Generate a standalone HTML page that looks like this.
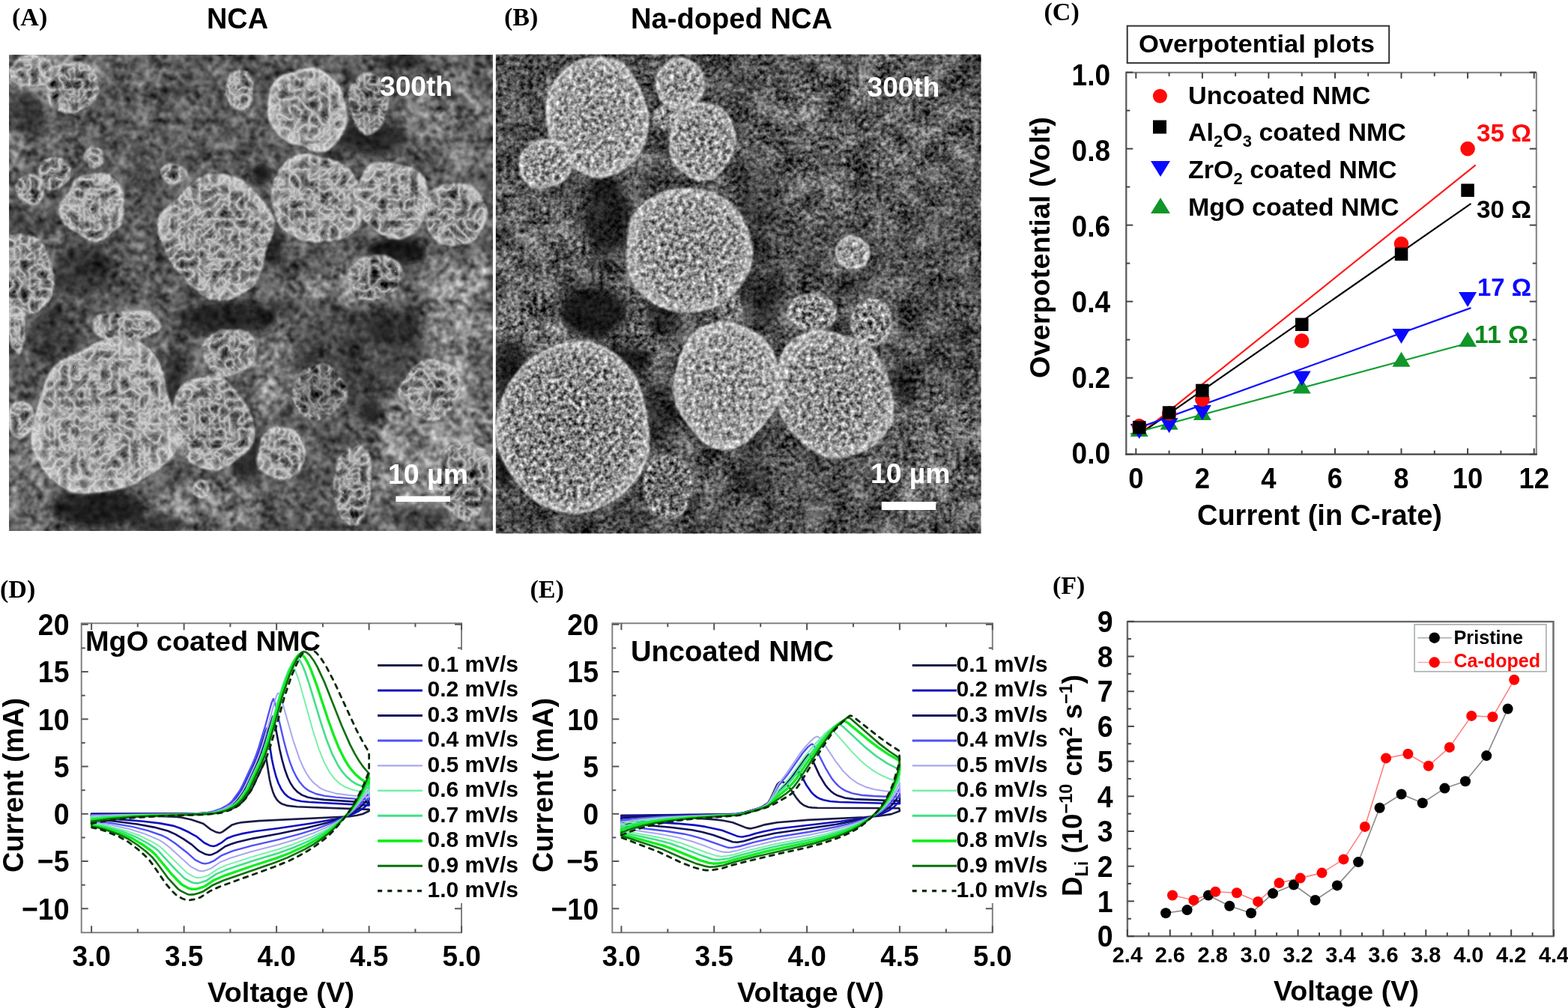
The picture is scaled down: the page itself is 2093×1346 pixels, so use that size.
<!DOCTYPE html>
<html><head><meta charset="utf-8"><title>Figure</title>
<style>html,body{margin:0;padding:0;background:#fff;} body{width:2093px;height:1346px;overflow:hidden;} svg{display:block;}</style>
</head><body>
<svg width="2093" height="1346" viewBox="0 0 2093 1346">
<defs>
<clipPath id="clipA"><rect x="12.4" y="73.6" width="645.2" height="635.2"/></clipPath>
<clipPath id="clipB"><rect x="661.8" y="72.5" width="647.8" height="639.9"/></clipPath>
<filter id="bl4" x="-50%" y="-50%" width="200%" height="200%"><feGaussianBlur stdDeviation="4"/></filter>
<filter id="bl6" x="-50%" y="-50%" width="200%" height="200%"><feGaussianBlur stdDeviation="6"/></filter>
<filter id="bl10" x="-50%" y="-50%" width="200%" height="200%"><feGaussianBlur stdDeviation="10"/></filter>
<filter id="bl16" x="-50%" y="-50%" width="200%" height="200%"><feGaussianBlur stdDeviation="16"/></filter>
<filter id="pblur" x="-20%" y="-20%" width="140%" height="140%"><feGaussianBlur stdDeviation="1.6"/></filter>
<radialGradient id="rg" cx="50%" cy="50%" r="50%">
  <stop offset="0%" stop-color="#000" stop-opacity="0.10"/>
  <stop offset="70%" stop-color="#000" stop-opacity="0.0"/>
  <stop offset="88%" stop-color="#fff" stop-opacity="0.18"/>
  <stop offset="100%" stop-color="#fff" stop-opacity="0.30"/>
</radialGradient>
<filter id="texA" x="0" y="0" width="100%" height="100%" color-interpolation-filters="sRGB">
  <feTurbulence type="fractalNoise" baseFrequency="0.12" numOctaves="2" seed="7" result="n1"/>
  <feTurbulence type="fractalNoise" baseFrequency="0.035" numOctaves="2" seed="3" result="n2"/>
  <feComposite in="n1" in2="n2" operator="arithmetic" k2="0.6" k3="0.4" result="n"/>
  <feColorMatrix in="n" type="matrix" values="1.5 0 0 0 -0.25  1.5 0 0 0 -0.25  1.5 0 0 0 -0.25  0 0 0 0 1" result="ng0"/>
  <feGaussianBlur in="ng0" stdDeviation="0.9" result="ng"/>
  <feBlend in="ng" in2="SourceGraphic" mode="overlay"/>
</filter>
<filter id="texB" x="0" y="0" width="100%" height="100%" color-interpolation-filters="sRGB">
  <feTurbulence type="fractalNoise" baseFrequency="0.17" numOctaves="2" seed="11" result="n1"/>
  <feTurbulence type="fractalNoise" baseFrequency="0.03" numOctaves="2" seed="5" result="n2"/>
  <feComposite in="n1" in2="n2" operator="arithmetic" k2="0.6" k3="0.4" result="n"/>
  <feColorMatrix in="n" type="matrix" values="2.1 0 0 0 -0.55  2.1 0 0 0 -0.55  2.1 0 0 0 -0.55  0 0 0 0 1" result="ng0"/>
  <feGaussianBlur in="ng0" stdDeviation="0.6" result="ng"/>
  <feBlend in="ng" in2="SourceGraphic" mode="overlay"/>
</filter>
<filter id="ptexA" x="0" y="0" width="100%" height="100%" color-interpolation-filters="sRGB">
  <feTurbulence type="turbulence" baseFrequency="0.075" numOctaves="2" seed="4" result="n"/>
  <feColorMatrix in="n" type="matrix" values="-1.1 0 0 0 0.78  -1.1 0 0 0 0.78  -1.1 0 0 0 0.78  0 0 0 0 1" result="ng0"/>
  <feGaussianBlur in="ng0" stdDeviation="0.7" result="ng"/>
  <feBlend in="ng" in2="SourceGraphic" mode="overlay" result="b"/>
  <feComposite in="b" in2="SourceAlpha" operator="in"/>
</filter>
<filter id="ptexB" x="0" y="0" width="100%" height="100%" color-interpolation-filters="sRGB">
  <feTurbulence type="fractalNoise" baseFrequency="0.17" numOctaves="2" seed="9" result="n"/>
  <feColorMatrix in="n" type="matrix" values="1.5 0 0 0 -0.25  1.5 0 0 0 -0.25  1.5 0 0 0 -0.25  0 0 0 0 1" result="ng0"/>
  <feGaussianBlur in="ng0" stdDeviation="0.7" result="ng"/>
  <feBlend in="ng" in2="SourceGraphic" mode="overlay" result="b"/>
  <feComposite in="b" in2="SourceAlpha" operator="in"/>
</filter>
</defs>
<rect width="2093" height="1346" fill="#fff"/>
<g clip-path="url(#clipA)"><g filter="url(#texA)">
<rect x="12.4" y="73.6" width="645.2" height="635.2" fill="#585858"/>
<ellipse cx="70" cy="110" rx="62" ry="40" fill="#969696" filter="url(#bl10)"/>
<ellipse cx="615" cy="150" rx="45" ry="75" fill="#6c6c6c" filter="url(#bl16)"/>
<ellipse cx="580" cy="585" rx="85" ry="130" fill="#878787" filter="url(#bl16)"/>
<ellipse cx="28" cy="200" rx="18" ry="32" fill="#6e6e6e" filter="url(#bl6)"/>
<ellipse cx="40" cy="650" rx="32" ry="60" fill="#707070" filter="url(#bl10)"/>
<ellipse cx="280" cy="675" rx="70" ry="36" fill="#767676" filter="url(#bl10)"/>
<ellipse cx="362" cy="497" rx="35" ry="60" fill="#767676" filter="url(#bl10)"/>
<ellipse cx="240" cy="140" rx="110" ry="70" fill="#5c5c5c" filter="url(#bl16)"/>
<ellipse cx="470" cy="380" rx="60" ry="30" fill="#7d7d7d" filter="url(#bl10)"/>
<ellipse cx="560" cy="165" rx="35" ry="45" fill="#707070" filter="url(#bl10)"/>
<ellipse cx="612" cy="426" rx="48" ry="36" fill="#828282" filter="url(#bl10)"/>
<ellipse cx="610" cy="372" rx="47" ry="30" fill="#878787" filter="url(#bl10)"/>
<ellipse cx="35" cy="150" rx="26" ry="32" fill="#3a3a3a" filter="url(#bl6)"/>
<ellipse cx="112" cy="362" rx="42" ry="35" fill="#323232" filter="url(#bl6)"/>
<ellipse cx="495" cy="185" rx="52" ry="22" fill="#262626" filter="url(#bl6)"/>
<ellipse cx="540" cy="82" rx="36" ry="10" fill="#2d2d2d" filter="url(#bl4)"/>
<ellipse cx="530" cy="334" rx="40" ry="16" fill="#191919" filter="url(#bl4)"/>
<ellipse cx="350" cy="232" rx="13" ry="14" fill="#191919" filter="url(#bl4)"/>
<ellipse cx="364" cy="328" rx="14" ry="25" fill="#2a2a2a" filter="url(#bl4)"/>
<ellipse cx="70" cy="450" rx="36" ry="36" fill="#3a3a3a" filter="url(#bl6)"/>
<ellipse cx="305" cy="425" rx="62" ry="24" fill="#232323" filter="url(#bl6)"/>
<ellipse cx="130" cy="678" rx="62" ry="24" fill="#1e1e1e" filter="url(#bl6)"/>
<ellipse cx="235" cy="510" rx="15" ry="36" fill="#2a2a2a" filter="url(#bl4)"/>
<ellipse cx="325" cy="617" rx="16" ry="24" fill="#2a2a2a" filter="url(#bl4)"/>
<ellipse cx="480" cy="478" rx="90" ry="62" fill="#424242" filter="url(#bl10)"/>
<ellipse cx="525" cy="438" rx="40" ry="24" fill="#2a2a2a" filter="url(#bl6)"/>
<ellipse cx="337" cy="611" rx="8" ry="42" fill="#262626" filter="url(#bl4)"/>
<ellipse cx="495" cy="552" rx="17" ry="15" fill="#262626" filter="url(#bl4)"/>
<ellipse cx="210" cy="700" rx="40" ry="10" fill="#2d2d2d" filter="url(#bl4)"/>
<ellipse cx="25" cy="300" rx="14" ry="20" fill="#3c3c3c" filter="url(#bl6)"/>
<ellipse cx="560" cy="690" rx="40" ry="16" fill="#464646" filter="url(#bl6)"/>
</g><g filter="url(#ptexA)">
<g filter="url(#pblur)"><path d="M237,559C240,569 242,581 240,591C238,601 231,610 224,617C217,624 208,630 200,635C192,640 185,645 177,648C169,651 161,652 153,654C145,656 136,657 127,658C118,659 108,660 99,658C90,656 81,650 73,644C65,638 58,629 53,620C48,611 42,601 41,591C40,581 43,569 45,559C47,549 51,540 54,531C57,522 59,512 63,504C67,496 73,488 80,482C87,476 96,475 104,471C112,467 118,462 127,458C136,454 146,450 155,449C164,448 175,451 184,455C193,459 201,466 207,474C213,482 217,494 220,503C223,512 222,522 225,531C228,540 234,549 237,559Z" fill="#9e9e9e"/><path d="M237,559C240,569 242,581 240,591C238,601 231,610 224,617C217,624 208,630 200,635C192,640 185,645 177,648C169,651 161,652 153,654C145,656 136,657 127,658C118,659 108,660 99,658C90,656 81,650 73,644C65,638 58,629 53,620C48,611 42,601 41,591C40,581 43,569 45,559C47,549 51,540 54,531C57,522 59,512 63,504C67,496 73,488 80,482C87,476 96,475 104,471C112,467 118,462 127,458C136,454 146,450 155,449C164,448 175,451 184,455C193,459 201,466 207,474C213,482 217,494 220,503C223,512 222,522 225,531C228,540 234,549 237,559Z" fill="url(#rg)"/><path d="M235,559C238,569 241,581 239,591C237,601 229,610 222,617C215,624 206,628 199,633C192,638 185,643 177,646C169,649 161,651 153,653C145,655 137,656 128,657C119,658 109,659 100,657C91,655 82,649 74,643C66,637 59,629 54,620C49,611 44,600 43,590C42,580 45,569 47,559C49,549 53,540 56,531C59,522 60,512 64,504C68,496 74,488 81,483C88,478 97,476 105,472C113,468 119,464 127,460C135,456 146,451 155,450C164,449 174,452 183,456C192,460 200,467 206,475C212,483 215,494 218,504C221,514 221,523 224,532C227,541 232,549 235,559Z" fill="none" stroke="#cdcdcd" stroke-width="3"/></g>
<g filter="url(#pblur)"><path d="M364,314C362,321 357,326 355,333C353,340 353,346 351,353C349,360 347,370 343,376C339,382 332,387 325,391C318,395 311,400 303,401C295,402 286,402 278,399C270,396 264,390 258,385C252,380 248,374 243,369C238,364 234,359 230,353C226,347 224,341 221,335C218,329 214,322 212,315C210,308 209,298 211,291C213,284 221,278 226,273C231,268 237,264 242,259C247,254 251,248 257,243C263,238 270,234 278,232C286,230 294,232 302,233C310,234 318,237 324,241C330,245 336,250 341,255C346,260 351,267 355,273C359,279 364,285 366,292C368,299 366,307 364,314Z" fill="#969696"/><path d="M364,314C362,321 357,326 355,333C353,340 353,346 351,353C349,360 347,370 343,376C339,382 332,387 325,391C318,395 311,400 303,401C295,402 286,402 278,399C270,396 264,390 258,385C252,380 248,374 243,369C238,364 234,359 230,353C226,347 224,341 221,335C218,329 214,322 212,315C210,308 209,298 211,291C213,284 221,278 226,273C231,268 237,264 242,259C247,254 251,248 257,243C263,238 270,234 278,232C286,230 294,232 302,233C310,234 318,237 324,241C330,245 336,250 341,255C346,260 351,267 355,273C359,279 364,285 366,292C368,299 366,307 364,314Z" fill="url(#rg)"/><path d="M363,314C361,321 356,326 354,333C352,340 352,346 350,353C348,360 346,368 342,374C338,380 332,386 325,390C318,394 310,398 302,399C294,400 285,400 278,398C271,396 265,389 259,384C253,379 249,373 244,368C239,363 235,358 231,353C227,348 225,341 222,335C219,329 216,322 214,315C212,308 211,299 213,292C215,285 222,279 227,274C232,269 238,265 243,260C248,255 252,248 258,244C264,240 272,236 279,234C286,232 295,233 302,234C309,235 317,238 323,242C329,246 335,252 340,257C345,262 349,268 353,274C357,280 362,286 364,293C366,300 365,307 363,314Z" fill="none" stroke="#bebebe" stroke-width="3"/></g>
<g filter="url(#pblur)"><path d="M463,146C464,151 465,157 464,162C463,167 461,173 458,178C455,183 452,188 448,192C444,196 440,200 435,202C430,204 423,203 418,202C413,201 408,196 404,195C400,194 395,194 391,193C387,192 382,189 378,186C374,183 371,179 368,175C365,171 361,167 359,162C357,157 357,151 357,146C357,141 358,136 359,130C360,124 360,118 363,113C366,108 370,104 374,101C378,98 385,98 390,97C395,96 399,93 404,92C409,91 414,89 419,90C424,91 428,94 432,96C436,98 440,102 444,105C448,108 452,113 454,117C456,121 458,126 459,131C460,136 462,141 463,146Z" fill="#a0a0a0"/><path d="M463,146C464,151 465,157 464,162C463,167 461,173 458,178C455,183 452,188 448,192C444,196 440,200 435,202C430,204 423,203 418,202C413,201 408,196 404,195C400,194 395,194 391,193C387,192 382,189 378,186C374,183 371,179 368,175C365,171 361,167 359,162C357,157 357,151 357,146C357,141 358,136 359,130C360,124 360,118 363,113C366,108 370,104 374,101C378,98 385,98 390,97C395,96 399,93 404,92C409,91 414,89 419,90C424,91 428,94 432,96C436,98 440,102 444,105C448,108 452,113 454,117C456,121 458,126 459,131C460,136 462,141 463,146Z" fill="url(#rg)"/><path d="M461,146C462,151 463,157 462,162C461,167 458,172 456,177C454,182 450,186 447,190C444,194 440,199 435,201C430,203 423,201 418,200C413,199 408,196 404,194C400,192 395,192 391,191C387,190 383,188 379,185C375,182 372,179 369,175C366,171 363,167 361,162C359,157 358,151 358,146C358,141 359,135 360,130C361,125 362,119 364,114C366,109 371,105 375,102C379,99 385,99 390,98C395,97 399,95 404,94C409,93 413,90 418,91C423,92 428,94 432,97C436,100 440,103 443,106C446,109 450,113 453,117C456,121 457,126 458,131C459,136 460,141 461,146Z" fill="none" stroke="#d2d2d2" stroke-width="3"/></g>
<g filter="url(#pblur)"><path d="M484,266C485,272 485,279 484,285C483,291 482,298 479,303C476,308 470,313 465,316C460,319 453,320 447,321C441,322 436,323 431,323C426,323 420,324 415,323C410,322 404,321 399,319C394,317 390,315 385,312C380,309 375,305 372,300C369,295 368,289 366,283C364,277 362,272 362,266C362,260 362,254 363,248C364,242 367,236 370,231C373,226 376,220 381,216C386,212 391,208 397,206C403,204 409,205 415,206C421,207 426,209 431,210C436,211 441,212 446,214C451,216 457,218 461,221C465,224 469,228 472,233C475,238 478,244 480,249C482,254 483,260 484,266Z" fill="#949494"/><path d="M484,266C485,272 485,279 484,285C483,291 482,298 479,303C476,308 470,313 465,316C460,319 453,320 447,321C441,322 436,323 431,323C426,323 420,324 415,323C410,322 404,321 399,319C394,317 390,315 385,312C380,309 375,305 372,300C369,295 368,289 366,283C364,277 362,272 362,266C362,260 362,254 363,248C364,242 367,236 370,231C373,226 376,220 381,216C386,212 391,208 397,206C403,204 409,205 415,206C421,207 426,209 431,210C436,211 441,212 446,214C451,216 457,218 461,221C465,224 469,228 472,233C475,238 478,244 480,249C482,254 483,260 484,266Z" fill="url(#rg)"/><path d="M483,266C484,272 484,278 483,284C482,290 481,297 478,302C475,307 469,312 464,315C459,318 452,319 447,320C442,321 436,322 431,322C426,322 420,323 415,322C410,321 405,320 400,318C395,316 390,314 386,311C382,308 377,304 374,299C371,294 369,288 367,283C365,278 364,272 364,266C364,260 364,254 365,248C366,242 368,237 371,232C374,227 378,221 382,217C386,213 392,210 397,208C402,206 409,208 415,208C421,208 426,210 431,211C436,212 441,213 446,215C451,217 456,219 460,222C464,225 468,230 471,234C474,238 477,244 479,249C481,254 482,260 483,266Z" fill="none" stroke="#bebebe" stroke-width="3"/></g>
<g filter="url(#pblur)"><path d="M569,266C568,270 568,274 568,279C568,284 568,289 566,293C564,297 561,301 558,305C555,309 550,312 546,315C542,318 536,320 531,320C526,320 520,319 516,317C512,315 508,312 504,310C500,308 496,305 493,302C490,299 486,296 484,292C482,288 480,284 478,280C476,276 475,271 475,266C475,261 476,256 477,252C478,248 479,244 481,239C483,234 485,229 488,225C491,221 496,218 501,217C506,216 512,217 517,217C522,217 526,218 530,219C534,220 540,220 544,221C548,222 553,224 557,227C561,230 565,234 567,238C569,242 571,247 571,252C571,257 570,262 569,266Z" fill="#989898"/><path d="M569,266C568,270 568,274 568,279C568,284 568,289 566,293C564,297 561,301 558,305C555,309 550,312 546,315C542,318 536,320 531,320C526,320 520,319 516,317C512,315 508,312 504,310C500,308 496,305 493,302C490,299 486,296 484,292C482,288 480,284 478,280C476,276 475,271 475,266C475,261 476,256 477,252C478,248 479,244 481,239C483,234 485,229 488,225C491,221 496,218 501,217C506,216 512,217 517,217C522,217 526,218 530,219C534,220 540,220 544,221C548,222 553,224 557,227C561,230 565,234 567,238C569,242 571,247 571,252C571,257 570,262 569,266Z" fill="url(#rg)"/><path d="M568,266C568,270 568,275 567,279C566,283 566,288 564,292C562,296 560,300 557,304C554,308 549,312 545,314C541,316 536,318 531,318C526,318 522,318 517,316C512,314 508,312 504,309C500,306 497,304 494,301C491,298 488,295 485,291C482,287 480,283 479,279C478,275 476,270 476,266C476,262 478,257 479,253C480,249 480,244 482,240C484,236 486,230 489,226C492,222 497,219 502,218C507,217 512,218 517,218C522,218 526,219 530,220C534,221 539,222 543,223C547,224 552,226 556,229C560,232 564,235 566,239C568,243 569,248 569,253C569,258 568,262 568,266Z" fill="none" stroke="#c3c3c3" stroke-width="3"/></g>
<g filter="url(#pblur)"><path d="M651,286C651,290 650,294 648,298C646,302 644,306 642,309C640,312 638,316 635,319C632,322 628,324 624,325C620,326 617,326 613,327C609,328 605,329 601,329C597,329 593,328 589,326C585,324 582,322 579,319C576,316 574,314 572,310C570,306 570,301 569,297C568,293 568,290 567,286C566,282 564,276 564,272C564,268 566,262 568,259C570,256 575,254 579,252C583,250 586,248 590,247C594,246 597,245 601,245C605,245 609,245 613,245C617,245 620,245 624,246C628,247 632,249 635,252C638,255 640,258 642,262C644,266 646,269 648,273C650,277 651,282 651,286Z" fill="#8e8e8e"/><path d="M651,286C651,290 650,294 648,298C646,302 644,306 642,309C640,312 638,316 635,319C632,322 628,324 624,325C620,326 617,326 613,327C609,328 605,329 601,329C597,329 593,328 589,326C585,324 582,322 579,319C576,316 574,314 572,310C570,306 570,301 569,297C568,293 568,290 567,286C566,282 564,276 564,272C564,268 566,262 568,259C570,256 575,254 579,252C583,250 586,248 590,247C594,246 597,245 601,245C605,245 609,245 613,245C617,245 620,245 624,246C628,247 632,249 635,252C638,255 640,258 642,262C644,266 646,269 648,273C650,277 651,282 651,286Z" fill="url(#rg)"/><path d="M650,286C650,290 648,294 646,298C644,302 643,306 641,309C639,312 637,316 634,318C631,320 628,323 624,324C620,325 617,326 613,326C609,326 605,327 601,327C597,327 594,326 590,325C586,324 583,321 580,318C577,315 575,312 573,309C571,306 571,301 570,297C569,293 569,290 568,286C567,282 565,277 565,273C565,269 566,263 569,260C572,257 576,255 580,253C584,251 587,249 591,248C595,247 598,246 602,246C606,246 608,246 612,246C616,246 620,247 624,248C628,249 631,250 634,253C637,256 639,260 641,263C643,266 646,269 647,273C648,277 650,282 650,286Z" fill="none" stroke="#b9b9b9" stroke-width="3"/></g>
<g filter="url(#pblur)"><path d="M165,276C165,280 166,284 165,288C164,292 164,296 162,300C160,304 156,306 153,309C150,312 146,314 143,316C140,318 136,322 132,323C128,324 122,322 118,321C114,320 112,316 108,314C104,312 100,310 97,308C94,306 90,304 87,301C84,298 81,293 80,289C79,285 78,280 79,276C80,272 83,268 85,264C87,260 91,258 93,255C95,252 96,247 98,244C100,241 102,237 106,235C110,233 115,233 119,232C123,231 127,231 131,231C135,231 141,230 145,232C149,234 153,238 156,241C159,244 161,248 163,252C165,256 166,260 166,264C166,268 165,272 165,276Z" fill="#969696"/><path d="M165,276C165,280 166,284 165,288C164,292 164,296 162,300C160,304 156,306 153,309C150,312 146,314 143,316C140,318 136,322 132,323C128,324 122,322 118,321C114,320 112,316 108,314C104,312 100,310 97,308C94,306 90,304 87,301C84,298 81,293 80,289C79,285 78,280 79,276C80,272 83,268 85,264C87,260 91,258 93,255C95,252 96,247 98,244C100,241 102,237 106,235C110,233 115,233 119,232C123,231 127,231 131,231C135,231 141,230 145,232C149,234 153,238 156,241C159,244 161,248 163,252C165,256 166,260 166,264C166,268 165,272 165,276Z" fill="url(#rg)"/><path d="M164,276C164,280 164,283 163,287C162,291 163,296 161,299C159,302 155,305 152,308C149,311 146,313 143,315C140,317 136,320 132,321C128,322 123,321 119,320C115,319 112,315 108,313C104,311 101,309 98,307C95,305 91,303 88,300C85,297 83,293 82,289C81,285 79,280 80,276C81,272 85,268 87,265C89,262 92,259 94,256C96,253 96,248 98,245C100,242 104,238 107,236C110,234 115,235 119,234C123,233 127,232 131,232C135,232 140,232 144,234C148,236 151,239 154,242C157,245 159,249 161,253C163,257 164,260 164,264C164,268 164,272 164,276Z" fill="none" stroke="#bebebe" stroke-width="3"/></g>
<g filter="url(#pblur)"><path d="M95,232C95,234 94,236 93,238C92,240 91,242 90,243C89,244 88,246 86,247C84,248 83,249 81,250C79,251 78,253 76,254C74,255 71,255 69,255C67,255 65,254 63,253C61,252 58,252 57,250C56,248 55,246 54,244C53,242 53,239 53,237C53,235 52,234 52,232C52,230 52,228 52,226C52,224 53,222 54,220C55,218 56,216 58,215C60,214 61,212 63,211C65,210 67,210 69,210C71,210 74,209 76,209C78,209 80,210 82,211C84,212 84,214 86,216C88,218 90,218 91,220C92,222 94,223 95,225C96,227 95,230 95,232Z" fill="#8c8c8c"/><path d="M95,232C95,234 94,236 93,238C92,240 91,242 90,243C89,244 88,246 86,247C84,248 83,249 81,250C79,251 78,253 76,254C74,255 71,255 69,255C67,255 65,254 63,253C61,252 58,252 57,250C56,248 55,246 54,244C53,242 53,239 53,237C53,235 52,234 52,232C52,230 52,228 52,226C52,224 53,222 54,220C55,218 56,216 58,215C60,214 61,212 63,211C65,210 67,210 69,210C71,210 74,209 76,209C78,209 80,210 82,211C84,212 84,214 86,216C88,218 90,218 91,220C92,222 94,223 95,225C96,227 95,230 95,232Z" fill="url(#rg)"/><path d="M94,232C94,234 93,235 92,237C91,239 90,242 89,243C88,244 86,245 85,246C84,247 82,248 80,249C78,250 77,251 75,252C73,253 71,253 69,253C67,253 65,253 63,252C61,251 59,250 58,249C57,248 56,245 55,243C54,241 54,239 54,237C54,235 53,234 53,232C53,230 52,228 53,226C54,224 55,223 56,221C57,219 58,217 59,216C60,215 62,214 64,213C66,212 68,211 70,211C72,211 74,211 76,211C78,211 80,212 81,213C82,214 84,216 85,217C86,218 88,220 89,221C90,222 92,224 93,226C94,228 94,230 94,232Z" fill="none" stroke="#b4b4b4" stroke-width="3"/></g>
<g filter="url(#pblur)"><path d="M59,253C59,255 59,256 59,258C59,260 59,262 58,264C57,266 56,268 55,269C54,270 52,272 50,273C48,274 46,274 44,274C42,274 40,273 38,272C36,271 35,271 33,270C31,269 29,268 28,267C27,266 26,264 25,263C24,262 23,260 22,258C21,256 20,255 20,253C20,251 20,249 21,247C22,245 23,244 24,242C25,240 26,238 27,237C28,236 30,235 32,234C34,233 36,232 38,232C40,232 42,232 44,232C46,232 48,234 49,235C50,236 52,237 53,238C54,239 56,240 57,242C58,244 60,245 60,247C60,249 59,251 59,253Z" fill="#8c8c8c"/><path d="M59,253C59,255 59,256 59,258C59,260 59,262 58,264C57,266 56,268 55,269C54,270 52,272 50,273C48,274 46,274 44,274C42,274 40,273 38,272C36,271 35,271 33,270C31,269 29,268 28,267C27,266 26,264 25,263C24,262 23,260 22,258C21,256 20,255 20,253C20,251 20,249 21,247C22,245 23,244 24,242C25,240 26,238 27,237C28,236 30,235 32,234C34,233 36,232 38,232C40,232 42,232 44,232C46,232 48,234 49,235C50,236 52,237 53,238C54,239 56,240 57,242C58,244 60,245 60,247C60,249 59,251 59,253Z" fill="url(#rg)"/><path d="M58,253C58,255 58,256 58,258C58,260 58,261 57,263C56,265 55,267 54,268C53,269 51,270 49,271C47,272 45,272 43,272C41,272 40,270 38,270C36,270 34,270 33,269C32,268 30,267 29,266C28,265 27,263 26,262C25,261 25,260 24,258C23,256 21,255 21,253C21,251 21,249 22,247C23,245 24,244 25,243C26,242 27,239 28,238C29,237 31,236 33,235C35,234 36,234 38,234C40,234 41,234 43,234C45,234 46,235 48,236C50,237 51,238 52,239C53,240 55,242 56,243C57,244 58,245 58,247C58,249 58,251 58,253Z" fill="none" stroke="#b4b4b4" stroke-width="3"/></g>
<g filter="url(#pblur)"><path d="M138,210C138,211 138,213 138,214C138,215 138,217 137,218C136,219 135,220 134,221C133,222 132,222 131,223C130,224 128,225 127,225C126,225 124,225 123,225C122,225 120,224 119,223C118,222 117,221 116,220C115,219 115,218 114,217C113,216 113,215 112,214C111,213 110,211 110,210C110,209 110,207 111,206C112,205 113,204 114,203C115,202 115,201 116,200C117,199 118,198 119,197C120,196 122,196 123,196C124,196 126,195 127,195C128,195 130,196 131,197C132,198 133,198 134,199C135,200 136,202 137,203C138,204 138,205 138,206C138,207 138,209 138,210Z" fill="#969696"/><path d="M138,210C138,211 138,213 138,214C138,215 138,217 137,218C136,219 135,220 134,221C133,222 132,222 131,223C130,224 128,225 127,225C126,225 124,225 123,225C122,225 120,224 119,223C118,222 117,221 116,220C115,219 115,218 114,217C113,216 113,215 112,214C111,213 110,211 110,210C110,209 110,207 111,206C112,205 113,204 114,203C115,202 115,201 116,200C117,199 118,198 119,197C120,196 122,196 123,196C124,196 126,195 127,195C128,195 130,196 131,197C132,198 133,198 134,199C135,200 136,202 137,203C138,204 138,205 138,206C138,207 138,209 138,210Z" fill="url(#rg)"/><path d="M137,210C137,211 137,212 137,213C137,214 137,216 136,217C135,218 134,218 133,219C132,220 131,221 130,222C129,223 128,223 127,223C126,223 124,223 123,223C122,223 121,222 120,221C119,220 118,220 117,219C116,218 116,217 115,216C114,215 114,214 113,213C112,212 112,211 112,210C112,209 112,207 113,206C114,205 114,205 115,204C116,203 116,202 117,201C118,200 119,199 120,198C121,197 122,197 123,197C124,197 126,197 127,197C128,197 129,197 130,198C131,199 132,200 133,201C134,202 134,202 135,203C136,204 137,206 137,207C137,208 137,209 137,210Z" fill="none" stroke="#b9b9b9" stroke-width="3"/></g>
<g filter="url(#pblur)"><path d="M132,116C132,119 132,122 131,125C130,128 129,132 127,134C125,136 122,138 119,140C116,142 114,143 111,145C108,147 104,149 101,150C98,151 94,151 91,151C88,151 84,150 80,149C76,148 73,145 70,143C67,141 65,138 64,135C63,132 62,128 62,125C62,122 61,119 61,116C61,113 61,110 62,107C63,104 64,101 65,98C66,95 68,91 71,89C74,87 78,86 81,85C84,84 88,84 91,84C94,84 98,83 101,83C104,83 108,82 112,83C116,84 119,87 122,89C125,91 126,94 128,97C130,100 130,104 131,107C132,110 132,113 132,116Z" fill="#848484"/><path d="M132,116C132,119 132,122 131,125C130,128 129,132 127,134C125,136 122,138 119,140C116,142 114,143 111,145C108,147 104,149 101,150C98,151 94,151 91,151C88,151 84,150 80,149C76,148 73,145 70,143C67,141 65,138 64,135C63,132 62,128 62,125C62,122 61,119 61,116C61,113 61,110 62,107C63,104 64,101 65,98C66,95 68,91 71,89C74,87 78,86 81,85C84,84 88,84 91,84C94,84 98,83 101,83C104,83 108,82 112,83C116,84 119,87 122,89C125,91 126,94 128,97C130,100 130,104 131,107C132,110 132,113 132,116Z" fill="url(#rg)"/><path d="M130,116C130,119 131,122 130,125C129,128 128,131 126,133C124,135 121,137 118,139C115,141 113,142 110,144C107,146 104,148 101,149C98,150 94,150 91,150C88,150 83,148 80,147C77,146 73,144 71,142C69,140 67,137 66,134C65,131 64,128 63,125C62,122 62,119 62,116C62,113 62,110 63,107C64,104 64,102 66,99C68,96 70,92 72,90C74,88 78,87 81,86C84,85 88,86 91,86C94,86 98,84 101,84C104,84 109,84 112,85C115,86 118,88 121,90C124,92 126,95 127,98C128,101 130,104 130,107C130,110 130,113 130,116Z" fill="none" stroke="#aaaaaa" stroke-width="3"/></g>
<g filter="url(#pblur)"><path d="M70,95C70,97 70,99 69,101C68,103 68,105 67,107C66,109 64,111 62,112C60,113 58,114 55,115C52,116 49,116 46,116C43,116 41,116 38,116C35,116 32,116 29,115C26,114 23,114 21,113C19,112 16,110 15,108C14,106 14,103 13,101C12,99 12,97 12,95C12,93 14,91 15,89C16,87 18,86 19,84C20,82 21,80 23,79C25,78 28,76 30,75C32,74 35,74 38,73C41,72 43,72 46,72C49,72 52,73 55,74C58,75 60,77 62,78C64,79 68,80 69,82C70,84 71,87 71,89C71,91 70,93 70,95Z" fill="#9e9e9e"/><path d="M70,95C70,97 70,99 69,101C68,103 68,105 67,107C66,109 64,111 62,112C60,113 58,114 55,115C52,116 49,116 46,116C43,116 41,116 38,116C35,116 32,116 29,115C26,114 23,114 21,113C19,112 16,110 15,108C14,106 14,103 13,101C12,99 12,97 12,95C12,93 14,91 15,89C16,87 18,86 19,84C20,82 21,80 23,79C25,78 28,76 30,75C32,74 35,74 38,73C41,72 43,72 46,72C49,72 52,73 55,74C58,75 60,77 62,78C64,79 68,80 69,82C70,84 71,87 71,89C71,91 70,93 70,95Z" fill="url(#rg)"/><path d="M69,95C69,97 68,98 68,100C68,102 67,104 66,106C65,108 63,110 61,111C59,112 56,113 54,114C52,115 49,115 46,115C43,115 41,114 38,114C35,114 33,114 30,114C27,114 24,113 22,112C20,111 17,109 16,107C15,105 14,103 14,101C14,99 13,97 13,95C13,93 15,92 16,90C17,88 19,87 20,85C21,83 22,82 24,80C26,78 28,77 30,76C32,75 35,74 38,74C41,74 43,74 46,74C49,74 52,75 54,76C56,77 59,78 61,79C63,80 66,81 67,83C68,85 70,87 70,89C70,91 69,93 69,95Z" fill="none" stroke="#c8c8c8" stroke-width="3"/></g>
<g filter="url(#pblur)"><path d="M339,565C340,571 342,578 341,584C340,590 336,596 332,601C328,606 322,608 318,611C314,614 310,619 306,622C302,625 296,627 291,628C286,629 280,628 275,627C270,626 265,625 260,622C255,619 250,615 247,611C244,607 242,601 240,596C238,591 236,586 234,581C232,576 231,570 230,565C229,560 229,554 230,548C231,542 232,535 234,529C236,523 239,518 243,514C247,510 254,508 259,506C264,504 270,503 275,502C280,501 286,500 291,501C296,502 301,506 305,510C309,514 312,519 315,523C318,527 322,531 325,535C328,539 331,543 333,548C335,553 338,559 339,565Z" fill="#8e8e8e"/><path d="M339,565C340,571 342,578 341,584C340,590 336,596 332,601C328,606 322,608 318,611C314,614 310,619 306,622C302,625 296,627 291,628C286,629 280,628 275,627C270,626 265,625 260,622C255,619 250,615 247,611C244,607 242,601 240,596C238,591 236,586 234,581C232,576 231,570 230,565C229,560 229,554 230,548C231,542 232,535 234,529C236,523 239,518 243,514C247,510 254,508 259,506C264,504 270,503 275,502C280,501 286,500 291,501C296,502 301,506 305,510C309,514 312,519 315,523C318,527 322,531 325,535C328,539 331,543 333,548C335,553 338,559 339,565Z" fill="url(#rg)"/><path d="M338,565C339,571 340,578 339,584C338,590 334,596 331,600C328,604 322,607 318,610C314,613 310,617 305,620C300,623 296,626 291,627C286,628 280,626 275,625C270,624 266,622 261,620C256,618 251,614 248,610C245,606 244,600 242,595C240,590 238,586 236,581C234,576 232,570 231,565C230,560 231,554 232,548C233,542 233,536 235,530C237,524 241,519 245,515C249,511 255,509 260,507C265,505 270,505 275,504C280,503 286,502 291,503C296,504 301,508 305,512C309,516 311,520 314,524C317,528 320,532 323,536C326,540 330,544 332,549C334,554 337,559 338,565Z" fill="none" stroke="#b9b9b9" stroke-width="3"/></g>
<g filter="url(#pblur)"><path d="M342,470C342,473 340,476 339,479C338,482 337,486 335,488C333,490 331,492 328,494C325,496 322,496 319,497C316,498 314,499 311,500C308,501 304,504 301,504C298,504 293,504 290,502C287,500 285,497 283,495C281,493 279,491 277,488C275,485 274,482 273,479C272,476 272,473 271,470C270,467 269,463 270,460C271,457 273,453 275,451C277,449 281,448 284,446C287,444 289,443 292,442C295,441 298,440 301,440C304,440 307,441 310,441C313,441 316,440 320,440C324,440 328,441 331,443C334,445 336,447 338,450C340,453 340,457 341,460C342,463 342,467 342,470Z" fill="#8a8a8a"/><path d="M342,470C342,473 340,476 339,479C338,482 337,486 335,488C333,490 331,492 328,494C325,496 322,496 319,497C316,498 314,499 311,500C308,501 304,504 301,504C298,504 293,504 290,502C287,500 285,497 283,495C281,493 279,491 277,488C275,485 274,482 273,479C272,476 272,473 271,470C270,467 269,463 270,460C271,457 273,453 275,451C277,449 281,448 284,446C287,444 289,443 292,442C295,441 298,440 301,440C304,440 307,441 310,441C313,441 316,440 320,440C324,440 328,441 331,443C334,445 336,447 338,450C340,453 340,457 341,460C342,463 342,467 342,470Z" fill="url(#rg)"/><path d="M340,470C340,473 339,476 338,479C337,482 336,485 334,487C332,489 330,492 327,493C324,494 322,495 319,496C316,497 313,498 310,499C307,500 304,502 301,502C298,502 294,502 291,501C288,500 286,496 284,494C282,492 280,490 278,487C276,484 275,482 274,479C273,476 272,473 272,470C272,467 271,464 272,461C273,458 275,454 277,452C279,450 282,448 285,447C288,446 290,444 293,443C296,442 299,442 302,442C305,442 307,442 310,442C313,442 317,442 320,442C323,442 327,442 330,444C333,446 335,448 337,451C339,454 340,458 340,461C340,464 340,467 340,470Z" fill="none" stroke="#afafaf" stroke-width="3"/></g>
<g filter="url(#pblur)"><path d="M216,435C216,437 214,439 212,441C210,443 206,444 203,446C200,448 198,449 195,450C192,451 188,452 185,453C182,454 178,455 174,456C170,457 165,458 161,458C157,458 152,457 148,456C144,455 141,454 138,452C135,450 131,449 129,447C127,445 126,443 125,441C124,439 125,437 125,435C125,433 123,431 123,429C123,427 124,424 127,422C130,420 135,419 139,418C143,417 147,417 151,417C155,417 158,416 162,416C166,416 170,415 174,415C178,415 184,414 188,414C192,414 198,414 201,416C204,418 205,421 207,423C209,425 210,427 212,429C214,431 216,433 216,435Z" fill="#8e8e8e"/><path d="M216,435C216,437 214,439 212,441C210,443 206,444 203,446C200,448 198,449 195,450C192,451 188,452 185,453C182,454 178,455 174,456C170,457 165,458 161,458C157,458 152,457 148,456C144,455 141,454 138,452C135,450 131,449 129,447C127,445 126,443 125,441C124,439 125,437 125,435C125,433 123,431 123,429C123,427 124,424 127,422C130,420 135,419 139,418C143,417 147,417 151,417C155,417 158,416 162,416C166,416 170,415 174,415C178,415 184,414 188,414C192,414 198,414 201,416C204,418 205,421 207,423C209,425 210,427 212,429C214,431 216,433 216,435Z" fill="url(#rg)"/><path d="M214,435C214,437 212,439 210,441C208,443 205,444 202,445C199,446 197,448 194,449C191,450 187,451 184,452C181,453 178,454 174,455C170,456 165,457 161,457C157,457 153,456 149,455C145,454 142,452 139,451C136,450 132,448 130,446C128,444 128,443 127,441C126,439 126,437 126,435C126,433 124,431 125,429C126,427 126,424 129,423C132,422 136,421 140,420C144,419 147,418 151,418C155,418 158,417 162,417C166,417 170,416 174,416C178,416 183,415 187,415C191,415 197,417 200,418C203,419 204,421 206,423C208,425 210,427 211,429C212,431 214,433 214,435Z" fill="none" stroke="#b4b4b4" stroke-width="3"/></g>
<g filter="url(#pblur)"><path d="M463,524C464,528 464,532 463,535C462,538 458,541 455,543C452,545 448,546 446,548C444,550 442,552 440,554C438,556 434,559 431,560C428,561 424,561 420,561C416,561 413,559 410,558C407,557 404,555 401,553C398,551 397,547 395,544C393,541 392,537 391,534C390,531 390,527 390,524C390,521 392,517 393,514C394,511 396,509 397,506C398,503 400,499 402,497C404,495 408,494 411,492C414,490 418,489 421,488C424,487 428,486 431,486C434,486 438,488 441,490C444,492 447,496 449,498C451,500 453,502 455,505C457,508 459,511 460,514C461,517 462,520 463,524Z" fill="#686868"/><path d="M463,524C464,528 464,532 463,535C462,538 458,541 455,543C452,545 448,546 446,548C444,550 442,552 440,554C438,556 434,559 431,560C428,561 424,561 420,561C416,561 413,559 410,558C407,557 404,555 401,553C398,551 397,547 395,544C393,541 392,537 391,534C390,531 390,527 390,524C390,521 392,517 393,514C394,511 396,509 397,506C398,503 400,499 402,497C404,495 408,494 411,492C414,490 418,489 421,488C424,487 428,486 431,486C434,486 438,488 441,490C444,492 447,496 449,498C451,500 453,502 455,505C457,508 459,511 460,514C461,517 462,520 463,524Z" fill="url(#rg)"/><path d="M462,524C462,527 462,531 461,534C460,537 456,540 454,542C452,544 448,545 446,547C444,549 442,551 439,553C436,555 434,558 431,559C428,560 424,559 421,559C418,559 414,558 411,557C408,556 404,553 402,551C400,549 398,546 396,543C394,540 393,537 392,534C391,531 391,527 391,524C391,521 393,518 394,515C395,512 396,509 398,506C400,503 401,500 403,498C405,496 409,494 412,493C415,492 418,491 421,490C424,489 428,487 431,487C434,487 438,489 441,491C444,493 446,496 448,499C450,502 452,504 454,506C456,508 458,511 459,514C460,517 462,521 462,524Z" fill="none" stroke="#828282" stroke-width="3"/></g>
<g filter="url(#pblur)"><path d="M409,605C409,608 408,612 407,615C406,618 404,620 403,623C402,626 400,630 398,632C396,634 393,636 390,637C387,638 383,640 380,640C377,640 374,641 371,640C368,639 364,637 361,636C358,635 356,634 353,632C350,630 347,628 345,625C343,622 342,618 342,615C342,612 344,608 345,605C346,602 346,600 347,597C348,594 347,591 348,588C349,585 351,582 353,579C355,576 357,574 360,572C363,570 367,570 370,570C373,570 377,570 380,571C383,572 387,572 390,573C393,574 396,576 398,579C400,582 402,585 403,588C404,591 405,593 406,596C407,599 409,602 409,605Z" fill="#969696"/><path d="M409,605C409,608 408,612 407,615C406,618 404,620 403,623C402,626 400,630 398,632C396,634 393,636 390,637C387,638 383,640 380,640C377,640 374,641 371,640C368,639 364,637 361,636C358,635 356,634 353,632C350,630 347,628 345,625C343,622 342,618 342,615C342,612 344,608 345,605C346,602 346,600 347,597C348,594 347,591 348,588C349,585 351,582 353,579C355,576 357,574 360,572C363,570 367,570 370,570C373,570 377,570 380,571C383,572 387,572 390,573C393,574 396,576 398,579C400,582 402,585 403,588C404,591 405,593 406,596C407,599 409,602 409,605Z" fill="url(#rg)"/><path d="M407,605C407,608 407,611 406,614C405,617 404,619 402,622C400,625 399,628 397,630C395,632 392,635 389,636C386,637 383,638 380,638C377,638 374,638 371,638C368,638 365,636 362,635C359,634 357,633 354,631C351,629 348,627 346,624C344,621 344,618 344,615C344,612 346,608 347,605C348,602 348,600 348,597C348,594 348,591 349,588C350,585 352,582 354,580C356,578 358,576 361,574C364,572 368,571 371,571C374,571 377,572 380,573C383,574 386,574 389,575C392,576 395,578 397,580C399,582 401,586 402,589C403,592 404,594 405,597C406,600 407,602 407,605Z" fill="none" stroke="#c3c3c3" stroke-width="3"/></g>
<g filter="url(#pblur)"><path d="M495,647C495,652 496,656 495,661C494,666 492,670 491,674C490,678 488,681 487,685C486,689 484,693 482,696C480,699 478,702 475,703C472,704 470,702 467,701C464,700 462,699 460,697C458,695 455,692 453,689C451,686 450,681 449,677C448,673 446,668 445,663C444,658 444,652 444,647C444,642 446,638 447,633C448,628 449,624 450,619C451,614 452,609 454,606C456,603 459,602 461,601C463,600 466,599 468,598C470,597 473,594 475,594C477,594 480,594 482,595C484,596 488,598 490,601C492,604 494,609 495,614C496,619 496,626 496,632C496,638 495,642 495,647Z" fill="#8a8a8a"/><path d="M495,647C495,652 496,656 495,661C494,666 492,670 491,674C490,678 488,681 487,685C486,689 484,693 482,696C480,699 478,702 475,703C472,704 470,702 467,701C464,700 462,699 460,697C458,695 455,692 453,689C451,686 450,681 449,677C448,673 446,668 445,663C444,658 444,652 444,647C444,642 446,638 447,633C448,628 449,624 450,619C451,614 452,609 454,606C456,603 459,602 461,601C463,600 466,599 468,598C470,597 473,594 475,594C477,594 480,594 482,595C484,596 488,598 490,601C492,604 494,609 495,614C496,619 496,626 496,632C496,638 495,642 495,647Z" fill="url(#rg)"/><path d="M494,647C494,652 494,656 493,661C492,666 491,670 490,674C489,678 488,680 486,684C484,688 483,692 481,695C479,698 477,700 475,701C473,702 469,701 467,700C465,699 463,698 461,696C459,694 456,691 454,688C452,685 451,680 450,676C449,672 448,667 447,662C446,657 446,652 446,647C446,642 448,638 449,633C450,628 450,624 451,620C452,616 453,610 455,607C457,604 459,603 461,602C463,601 466,601 468,600C470,599 472,597 474,596C476,595 480,595 482,596C484,597 487,600 489,603C491,606 493,610 494,615C495,620 495,627 495,632C495,637 494,642 494,647Z" fill="none" stroke="#afafaf" stroke-width="3"/></g>
<g filter="url(#pblur)"><path d="M46,560C46,563 46,566 46,568C46,570 44,572 43,574C42,576 40,577 39,578C38,579 36,580 35,581C34,582 32,584 30,585C28,586 27,586 25,586C23,586 22,586 20,585C18,584 17,582 16,580C15,578 14,576 13,574C12,572 11,569 10,567C9,565 9,562 9,560C9,558 10,555 11,553C12,551 12,548 13,546C14,544 15,542 16,540C17,538 19,538 21,537C23,536 24,536 26,536C28,536 28,536 30,536C32,536 33,536 35,537C37,538 38,539 40,540C42,541 43,543 44,545C45,547 46,550 46,552C46,554 46,557 46,560Z" fill="#969696"/><path d="M46,560C46,563 46,566 46,568C46,570 44,572 43,574C42,576 40,577 39,578C38,579 36,580 35,581C34,582 32,584 30,585C28,586 27,586 25,586C23,586 22,586 20,585C18,584 17,582 16,580C15,578 14,576 13,574C12,572 11,569 10,567C9,565 9,562 9,560C9,558 10,555 11,553C12,551 12,548 13,546C14,544 15,542 16,540C17,538 19,538 21,537C23,536 24,536 26,536C28,536 28,536 30,536C32,536 33,536 35,537C37,538 38,539 40,540C42,541 43,543 44,545C45,547 46,550 46,552C46,554 46,557 46,560Z" fill="url(#rg)"/><path d="M45,560C45,562 46,565 45,567C44,569 43,571 42,573C41,575 39,576 38,577C37,578 35,579 34,580C33,581 31,582 30,583C29,584 28,584 26,584C24,584 22,584 21,583C20,582 18,581 17,579C16,577 15,575 14,573C13,571 12,569 12,567C12,565 11,562 11,560C11,558 12,555 12,553C12,551 13,549 14,547C15,545 16,542 17,541C18,540 20,538 21,538C22,538 24,538 26,538C28,538 28,538 30,538C32,538 34,538 35,539C36,540 38,540 39,541C40,542 42,544 43,546C44,548 44,551 44,553C44,555 45,558 45,560Z" fill="none" stroke="#bebebe" stroke-width="3"/></g>
<g filter="url(#pblur)"><path d="M33,430C33,434 34,438 34,442C34,446 34,450 33,454C32,458 31,460 30,463C29,466 28,470 27,472C26,474 25,474 24,473C23,472 21,470 20,469C19,468 18,468 17,466C16,464 16,462 15,460C14,458 14,454 13,451C12,448 12,446 11,442C10,438 10,434 10,430C10,426 10,422 10,418C10,414 10,408 11,404C12,400 12,397 13,395C14,393 16,394 17,393C18,392 19,393 20,392C21,391 23,389 24,389C25,389 26,390 27,392C28,394 29,395 30,398C31,401 32,404 32,408C32,412 33,415 33,419C33,423 33,426 33,430Z" fill="#949494"/><path d="M33,430C33,434 34,438 34,442C34,446 34,450 33,454C32,458 31,460 30,463C29,466 28,470 27,472C26,474 25,474 24,473C23,472 21,470 20,469C19,468 18,468 17,466C16,464 16,462 15,460C14,458 14,454 13,451C12,448 12,446 11,442C10,438 10,434 10,430C10,426 10,422 10,418C10,414 10,408 11,404C12,400 12,397 13,395C14,393 16,394 17,393C18,392 19,393 20,392C21,391 23,389 24,389C25,389 26,390 27,392C28,394 29,395 30,398C31,401 32,404 32,408C32,412 33,415 33,419C33,423 33,426 33,430Z" fill="url(#rg)"/><path d="M32,430C32,434 33,438 33,442C33,446 32,450 31,453C30,456 30,459 29,462C28,465 28,468 27,470C26,472 25,472 24,472C23,472 22,469 21,468C20,467 19,466 18,465C17,464 17,462 16,459C15,456 15,453 14,450C13,447 12,444 12,441C12,438 11,434 11,430C11,426 12,422 12,418C12,414 12,409 12,405C12,401 13,398 14,396C15,394 17,396 18,395C19,394 20,394 21,393C22,392 22,391 23,391C24,391 25,392 26,393C27,394 28,396 29,399C30,402 31,406 31,409C31,412 31,416 31,420C31,424 32,426 32,430Z" fill="none" stroke="#b9b9b9" stroke-width="3"/></g>
<g filter="url(#pblur)"><path d="M519,137C519,141 517,145 516,149C515,153 514,157 513,160C512,163 510,166 508,169C506,172 504,173 502,175C500,177 497,178 495,179C493,180 490,180 488,180C486,180 483,178 481,176C479,174 478,171 476,168C474,165 473,162 472,159C471,156 469,153 468,149C467,145 466,141 466,137C466,133 464,127 465,123C466,119 467,115 469,112C471,109 474,107 476,105C478,103 480,100 482,99C484,98 486,96 488,96C490,96 493,96 495,97C497,98 500,99 502,100C504,101 506,103 508,105C510,107 512,111 513,114C514,117 516,120 517,124C518,128 519,133 519,137Z" fill="#7a7a7a"/><path d="M519,137C519,141 517,145 516,149C515,153 514,157 513,160C512,163 510,166 508,169C506,172 504,173 502,175C500,177 497,178 495,179C493,180 490,180 488,180C486,180 483,178 481,176C479,174 478,171 476,168C474,165 473,162 472,159C471,156 469,153 468,149C467,145 466,141 466,137C466,133 464,127 465,123C466,119 467,115 469,112C471,109 474,107 476,105C478,103 480,100 482,99C484,98 486,96 488,96C490,96 493,96 495,97C497,98 500,99 502,100C504,101 506,103 508,105C510,107 512,111 513,114C514,117 516,120 517,124C518,128 519,133 519,137Z" fill="url(#rg)"/><path d="M517,137C517,141 516,145 515,149C514,153 512,156 511,159C510,162 509,166 507,168C505,170 503,172 501,174C499,176 497,176 495,177C493,178 490,180 488,179C486,178 484,176 482,174C480,172 478,170 477,167C476,164 474,161 473,158C472,155 471,152 470,148C469,144 468,141 467,137C466,133 466,128 467,124C468,120 468,116 470,113C472,110 474,108 476,106C478,104 480,102 482,101C484,100 487,98 489,98C491,98 493,98 495,98C497,98 499,100 501,101C503,102 505,104 507,106C509,108 510,111 512,114C514,117 515,121 516,125C517,129 517,133 517,137Z" fill="none" stroke="#969696" stroke-width="3"/></g>
<g filter="url(#pblur)"><path d="M72,368C73,373 73,378 72,383C71,388 70,394 68,398C66,402 62,407 59,410C56,413 51,415 47,417C43,419 39,420 35,421C31,422 26,424 21,423C16,422 12,420 8,418C4,416 0,413 -3,410C-6,407 -11,404 -13,399C-15,394 -16,388 -16,383C-16,378 -14,373 -13,368C-12,363 -12,359 -12,354C-12,349 -12,345 -10,340C-8,335 -6,330 -3,326C-0,322 3,317 7,315C11,313 16,312 21,312C26,312 30,312 35,313C40,314 44,315 48,317C52,319 56,322 59,326C62,330 62,336 64,341C66,346 67,350 68,354C69,358 71,363 72,368Z" fill="#8c8c8c"/><path d="M72,368C73,373 73,378 72,383C71,388 70,394 68,398C66,402 62,407 59,410C56,413 51,415 47,417C43,419 39,420 35,421C31,422 26,424 21,423C16,422 12,420 8,418C4,416 0,413 -3,410C-6,407 -11,404 -13,399C-15,394 -16,388 -16,383C-16,378 -14,373 -13,368C-12,363 -12,359 -12,354C-12,349 -12,345 -10,340C-8,335 -6,330 -3,326C-0,322 3,317 7,315C11,313 16,312 21,312C26,312 30,312 35,313C40,314 44,315 48,317C52,319 56,322 59,326C62,330 62,336 64,341C66,346 67,350 68,354C69,358 71,363 72,368Z" fill="url(#rg)"/><path d="M71,368C72,373 72,378 71,383C70,388 68,393 66,397C64,401 61,406 58,409C55,412 51,414 47,416C43,418 38,419 34,420C30,421 26,422 22,421C18,420 13,419 9,417C5,415 1,412 -2,409C-5,406 -9,402 -11,398C-13,394 -14,388 -14,383C-14,378 -13,373 -12,368C-11,363 -11,360 -10,355C-9,350 -9,345 -8,340C-7,335 -5,331 -2,327C1,323 4,319 8,317C12,315 17,313 21,313C25,313 30,314 34,315C38,316 43,317 47,319C51,321 55,324 58,328C61,332 62,336 63,341C64,346 66,350 67,355C68,360 70,363 71,368Z" fill="none" stroke="#b2b2b2" stroke-width="3"/></g>
<g filter="url(#pblur)"><path d="M534,370C533,373 533,375 532,378C531,381 532,384 530,386C528,388 525,390 522,392C519,394 517,394 514,395C511,396 508,398 505,399C502,400 498,401 495,401C492,401 488,401 484,400C480,399 476,397 474,395C472,393 470,389 469,386C468,383 468,381 467,378C466,375 464,373 464,370C464,367 464,365 465,362C466,359 469,356 471,354C473,352 475,350 477,348C479,346 482,344 485,343C488,342 492,342 495,342C498,342 502,341 505,341C508,341 513,340 516,341C519,342 522,344 525,346C528,348 531,350 533,352C535,354 536,358 536,361C536,364 535,367 534,370Z" fill="#808080"/><path d="M534,370C533,373 533,375 532,378C531,381 532,384 530,386C528,388 525,390 522,392C519,394 517,394 514,395C511,396 508,398 505,399C502,400 498,401 495,401C492,401 488,401 484,400C480,399 476,397 474,395C472,393 470,389 469,386C468,383 468,381 467,378C466,375 464,373 464,370C464,367 464,365 465,362C466,359 469,356 471,354C473,352 475,350 477,348C479,346 482,344 485,343C488,342 492,342 495,342C498,342 502,341 505,341C508,341 513,340 516,341C519,342 522,344 525,346C528,348 531,350 533,352C535,354 536,358 536,361C536,364 535,367 534,370Z" fill="url(#rg)"/><path d="M533,370C532,372 532,374 531,377C530,380 530,383 528,385C526,387 524,390 522,391C520,392 516,393 513,394C510,395 508,397 505,398C502,399 498,400 495,400C492,400 487,399 484,398C481,397 477,395 475,393C473,391 472,388 471,386C470,384 469,381 468,378C467,375 466,373 466,370C466,367 466,364 467,362C468,360 470,357 472,355C474,353 476,351 478,349C480,347 483,346 486,345C489,344 492,344 495,343C498,342 502,342 505,342C508,342 512,342 515,343C518,344 521,345 524,347C527,349 530,350 532,353C534,356 535,359 535,362C535,365 534,368 533,370Z" fill="none" stroke="#a0a0a0" stroke-width="3"/></g>
<g filter="url(#pblur)"><path d="M280,653C280,654 279,655 279,656C279,657 278,659 278,660C278,661 278,662 277,663C276,664 275,664 274,664C273,664 271,666 270,666C269,666 268,666 267,666C266,666 265,665 264,664C263,663 262,663 261,662C260,661 259,661 258,660C257,659 256,658 256,657C256,656 256,654 256,653C256,652 256,651 257,650C258,649 258,648 259,647C260,646 260,646 261,645C262,644 262,643 263,642C264,641 266,641 267,641C268,641 269,641 270,641C271,641 273,642 274,642C275,642 276,643 277,644C278,645 278,646 278,647C278,648 279,649 279,650C279,651 280,652 280,653Z" fill="#a0a0a0"/><path d="M280,653C280,654 279,655 279,656C279,657 278,659 278,660C278,661 278,662 277,663C276,664 275,664 274,664C273,664 271,666 270,666C269,666 268,666 267,666C266,666 265,665 264,664C263,663 262,663 261,662C260,661 259,661 258,660C257,659 256,658 256,657C256,656 256,654 256,653C256,652 256,651 257,650C258,649 258,648 259,647C260,646 260,646 261,645C262,644 262,643 263,642C264,641 266,641 267,641C268,641 269,641 270,641C271,641 273,642 274,642C275,642 276,643 277,644C278,645 278,646 278,647C278,648 279,649 279,650C279,651 280,652 280,653Z" fill="url(#rg)"/><path d="M278,653C278,654 278,655 278,656C278,657 277,658 277,659C277,660 277,660 276,661C275,662 274,662 273,663C272,664 271,664 270,664C269,664 268,664 267,664C266,664 265,662 264,662C263,662 263,662 262,661C261,660 260,660 259,659C258,658 258,657 258,656C258,655 258,654 258,653C258,652 259,651 259,650C259,649 260,649 260,648C260,647 261,647 262,646C263,645 263,645 264,644C265,643 266,642 267,642C268,642 269,642 270,642C271,642 272,642 273,643C274,644 275,644 276,645C277,646 277,647 277,648C277,649 278,649 278,650C278,651 278,652 278,653Z" fill="none" stroke="#c8c8c8" stroke-width="3"/></g>
<g filter="url(#pblur)"><path d="M337,120C337,122 338,125 338,127C338,129 338,132 337,134C336,136 335,138 334,140C333,142 331,144 329,145C327,146 325,147 323,147C321,147 319,147 317,146C315,145 314,144 312,143C310,142 308,142 307,140C306,138 304,136 303,134C302,132 302,129 301,127C300,125 300,122 300,120C300,118 301,115 302,113C303,111 303,109 304,107C305,105 305,102 306,100C307,98 309,97 311,96C313,95 315,94 317,94C319,94 321,93 323,93C325,93 327,94 329,95C331,96 333,98 334,100C335,102 336,104 337,106C338,108 338,111 338,113C338,115 337,118 337,120Z" fill="#8c8c8c"/><path d="M337,120C337,122 338,125 338,127C338,129 338,132 337,134C336,136 335,138 334,140C333,142 331,144 329,145C327,146 325,147 323,147C321,147 319,147 317,146C315,145 314,144 312,143C310,142 308,142 307,140C306,138 304,136 303,134C302,132 302,129 301,127C300,125 300,122 300,120C300,118 301,115 302,113C303,111 303,109 304,107C305,105 305,102 306,100C307,98 309,97 311,96C313,95 315,94 317,94C319,94 321,93 323,93C325,93 327,94 329,95C331,96 333,98 334,100C335,102 336,104 337,106C338,108 338,111 338,113C338,115 337,118 337,120Z" fill="url(#rg)"/><path d="M336,120C336,122 337,125 337,127C337,129 337,132 336,134C335,136 334,137 333,139C332,141 330,143 328,144C326,145 325,146 323,146C321,146 319,145 317,144C315,143 314,143 312,142C310,141 309,140 308,138C307,136 306,135 305,133C304,131 303,129 302,127C301,125 301,122 301,120C301,118 302,116 303,114C304,112 304,109 305,107C306,105 307,103 308,101C309,99 310,98 312,97C314,96 315,96 317,96C319,96 321,95 323,95C325,95 326,96 328,97C330,98 332,99 333,101C334,103 336,105 336,107C336,109 336,112 336,114C336,116 336,118 336,120Z" fill="none" stroke="#afafaf" stroke-width="3"/></g>
<g filter="url(#pblur)"><path d="M250,232C250,233 251,235 251,236C251,237 249,239 248,240C247,241 245,242 244,243C243,244 242,244 240,245C238,246 237,246 235,246C233,246 231,246 229,246C227,246 225,246 224,245C223,244 222,243 221,242C220,241 220,240 219,239C218,238 217,237 216,236C215,235 213,233 213,232C213,231 214,229 214,228C214,227 215,225 216,224C217,223 218,222 219,221C220,220 222,220 224,219C226,218 227,218 229,218C231,218 233,218 235,218C237,218 238,219 239,220C240,221 241,222 242,223C243,224 245,224 246,225C247,226 248,227 249,228C250,229 250,231 250,232Z" fill="#8c8c8c"/><path d="M250,232C250,233 251,235 251,236C251,237 249,239 248,240C247,241 245,242 244,243C243,244 242,244 240,245C238,246 237,246 235,246C233,246 231,246 229,246C227,246 225,246 224,245C223,244 222,243 221,242C220,241 220,240 219,239C218,238 217,237 216,236C215,235 213,233 213,232C213,231 214,229 214,228C214,227 215,225 216,224C217,223 218,222 219,221C220,220 222,220 224,219C226,218 227,218 229,218C231,218 233,218 235,218C237,218 238,219 239,220C240,221 241,222 242,223C243,224 245,224 246,225C247,226 248,227 249,228C250,229 250,231 250,232Z" fill="url(#rg)"/><path d="M249,232C249,233 249,235 249,236C249,237 248,238 247,239C246,240 244,240 243,241C242,242 240,242 239,243C238,244 236,245 234,245C232,245 232,245 230,245C228,245 226,245 225,244C224,243 223,242 222,241C221,240 221,239 220,238C219,237 218,236 217,235C216,234 215,233 215,232C215,231 216,229 216,228C216,227 217,226 218,225C219,224 219,223 220,222C221,221 223,220 225,220C227,220 228,219 230,219C232,219 233,219 234,219C235,219 237,220 238,221C239,222 241,223 242,224C243,225 244,225 245,226C246,227 246,228 247,229C248,230 249,231 249,232Z" fill="none" stroke="#afafaf" stroke-width="3"/></g>
<g filter="url(#pblur)"><path d="M613,520C613,524 613,528 612,531C611,534 609,538 607,541C605,544 602,546 600,549C598,552 595,555 592,557C589,559 585,561 581,562C577,563 573,562 569,561C565,560 561,558 558,556C555,554 553,552 550,549C547,546 545,544 542,541C539,538 536,536 534,532C532,528 531,524 532,520C533,516 536,512 538,509C540,506 542,503 544,500C546,497 548,494 550,491C552,488 556,486 559,484C562,482 565,481 569,480C573,479 577,480 581,480C585,480 588,482 592,483C596,484 599,486 602,488C605,490 610,494 612,497C614,500 614,505 614,509C614,513 613,516 613,520Z" fill="#8c8c8c"/><path d="M613,520C613,524 613,528 612,531C611,534 609,538 607,541C605,544 602,546 600,549C598,552 595,555 592,557C589,559 585,561 581,562C577,563 573,562 569,561C565,560 561,558 558,556C555,554 553,552 550,549C547,546 545,544 542,541C539,538 536,536 534,532C532,528 531,524 532,520C533,516 536,512 538,509C540,506 542,503 544,500C546,497 548,494 550,491C552,488 556,486 559,484C562,482 565,481 569,480C573,479 577,480 581,480C585,480 588,482 592,483C596,484 599,486 602,488C605,490 610,494 612,497C614,500 614,505 614,509C614,513 613,516 613,520Z" fill="url(#rg)"/><path d="M611,520C610,524 611,527 610,530C609,533 608,537 606,540C604,543 602,546 599,548C596,550 594,553 591,555C588,557 585,559 581,560C577,561 573,560 569,559C565,558 562,557 559,555C556,553 554,550 551,548C548,546 546,543 543,540C540,537 537,535 535,532C533,529 532,524 533,520C534,516 537,512 539,509C541,506 544,504 546,501C548,498 549,495 551,492C553,489 556,487 559,485C562,483 565,483 569,482C573,481 577,480 581,481C585,482 588,484 591,485C594,486 598,488 601,490C604,492 608,494 610,497C612,500 613,505 613,509C613,513 612,516 611,520Z" fill="none" stroke="#b4b4b4" stroke-width="3"/></g>
<g filter="url(#pblur)"><path d="M657,640C657,644 657,649 656,653C655,657 653,661 651,665C649,669 647,672 645,676C643,680 641,685 638,688C635,691 630,695 626,696C622,697 618,695 614,693C610,691 606,688 603,685C600,682 598,679 595,676C592,673 590,670 588,666C586,662 582,658 581,654C580,650 580,644 580,640C580,636 583,631 584,627C585,623 586,618 588,614C590,610 590,604 593,601C596,598 600,596 603,594C606,592 610,592 614,591C618,590 622,590 626,590C630,590 633,591 637,593C641,595 645,597 648,600C651,603 654,608 655,612C656,616 657,621 657,626C657,631 657,636 657,640Z" fill="#828282"/><path d="M657,640C657,644 657,649 656,653C655,657 653,661 651,665C649,669 647,672 645,676C643,680 641,685 638,688C635,691 630,695 626,696C622,697 618,695 614,693C610,691 606,688 603,685C600,682 598,679 595,676C592,673 590,670 588,666C586,662 582,658 581,654C580,650 580,644 580,640C580,636 583,631 584,627C585,623 586,618 588,614C590,610 590,604 593,601C596,598 600,596 603,594C606,592 610,592 614,591C618,590 622,590 626,590C630,590 633,591 637,593C641,595 645,597 648,600C651,603 654,608 655,612C656,616 657,621 657,626C657,631 657,636 657,640Z" fill="url(#rg)"/><path d="M656,640C656,644 656,649 655,653C654,657 652,660 650,664C648,668 646,671 644,675C642,679 640,684 637,687C634,690 630,693 626,694C622,695 618,693 614,691C610,689 607,687 604,684C601,681 598,678 596,675C594,672 591,668 589,665C587,662 583,658 582,654C581,650 580,644 581,640C582,636 585,631 586,627C587,623 588,619 589,615C590,611 592,605 594,602C596,599 600,596 604,595C608,594 611,594 615,593C619,592 622,591 626,591C630,591 634,592 637,594C640,596 644,598 647,601C650,604 652,608 654,612C656,616 656,622 656,627C656,632 656,636 656,640Z" fill="none" stroke="#a5a5a5" stroke-width="3"/></g>
</g></g>
<text x="507" y="128.3" font-size="37.5" font-weight="bold" font-family="'Liberation Sans', Arial, sans-serif" fill="#fff" textLength="97" lengthAdjust="spacingAndGlyphs">300th</text>
<text x="518" y="646.2" font-size="37.5" font-weight="bold" font-family="'Liberation Sans', Arial, sans-serif" fill="#fff" textLength="107" lengthAdjust="spacingAndGlyphs">10 µm</text>
<rect x="528.3" y="662.5" width="72.6" height="7.5" fill="#fff"/>
<g clip-path="url(#clipB)"><g filter="url(#texB)">
<rect x="661.8" y="72.5" width="647.8" height="639.9" fill="#505050"/>
<ellipse cx="720" cy="426" rx="62" ry="38" fill="#767676" filter="url(#bl10)"/>
<ellipse cx="867" cy="444" rx="34" ry="42" fill="#707070" filter="url(#bl10)"/>
<ellipse cx="1250" cy="610" rx="65" ry="95" fill="#646464" filter="url(#bl16)"/>
<ellipse cx="1096" cy="253" rx="60" ry="40" fill="#5f5f5f" filter="url(#bl16)"/>
<ellipse cx="720" cy="330" rx="60" ry="90" fill="#5f5f5f" filter="url(#bl16)"/>
<ellipse cx="1150" cy="180" rx="160" ry="110" fill="#5c5c5c" filter="url(#bl16)"/>
<ellipse cx="780" cy="690" rx="120" ry="24" fill="#464646" filter="url(#bl10)"/>
<ellipse cx="810" cy="290" rx="32" ry="52" fill="#232323" filter="url(#bl6)"/>
<ellipse cx="790" cy="418" rx="44" ry="34" fill="#181818" filter="url(#bl6)"/>
<ellipse cx="842" cy="480" rx="30" ry="18" fill="#1e1e1e" filter="url(#bl6)"/>
<ellipse cx="683" cy="500" rx="24" ry="48" fill="#232323" filter="url(#bl6)"/>
<ellipse cx="672" cy="625" rx="12" ry="28" fill="#1e1e1e" filter="url(#bl4)"/>
<ellipse cx="880" cy="552" rx="26" ry="40" fill="#2d2d2d" filter="url(#bl6)"/>
<ellipse cx="1020" cy="395" rx="30" ry="40" fill="#323232" filter="url(#bl6)"/>
<ellipse cx="1203" cy="510" rx="18" ry="25" fill="#2d2d2d" filter="url(#bl6)"/>
<ellipse cx="1010" cy="300" rx="28" ry="90" fill="#3a3a3a" filter="url(#bl10)"/>
<ellipse cx="885" cy="420" rx="25" ry="30" fill="#2d2d2d" filter="url(#bl6)"/>
<ellipse cx="1000" cy="620" rx="20" ry="30" fill="#373737" filter="url(#bl6)"/>
</g><g filter="url(#ptexB)">
<g filter="url(#pblur)"><path d="M866,156C866,164 866,172 864,179C862,186 860,194 857,201C854,208 848,213 843,218C838,223 832,227 826,230C820,233 813,236 807,237C801,238 794,238 788,236C782,234 776,230 770,227C764,224 759,220 754,215C749,210 744,205 740,199C736,193 734,185 732,178C730,171 728,164 728,156C728,148 727,140 729,132C731,124 734,117 738,111C742,105 747,99 752,94C757,89 763,85 769,82C775,79 782,78 788,77C794,76 801,75 807,76C813,77 820,78 826,81C832,84 838,90 842,95C846,100 850,108 853,114C856,120 860,127 862,134C864,141 866,148 866,156Z" fill="#9e9e9e"/><path d="M866,156C866,164 866,172 864,179C862,186 860,194 857,201C854,208 848,213 843,218C838,223 832,227 826,230C820,233 813,236 807,237C801,238 794,238 788,236C782,234 776,230 770,227C764,224 759,220 754,215C749,210 744,205 740,199C736,193 734,185 732,178C730,171 728,164 728,156C728,148 727,140 729,132C731,124 734,117 738,111C742,105 747,99 752,94C757,89 763,85 769,82C775,79 782,78 788,77C794,76 801,75 807,76C813,77 820,78 826,81C832,84 838,90 842,95C846,100 850,108 853,114C856,120 860,127 862,134C864,141 866,148 866,156Z" fill="url(#rg)"/><path d="M865,156C866,164 865,172 863,179C861,186 858,194 855,200C852,206 847,212 842,217C837,222 832,226 826,229C820,232 813,235 807,236C801,237 794,236 788,234C782,232 776,229 770,226C764,223 760,219 755,214C750,209 746,204 742,198C738,192 736,185 734,178C732,171 730,164 730,156C730,148 730,140 731,133C732,126 735,118 739,112C743,106 748,100 753,95C758,90 763,87 769,84C775,81 782,79 788,78C794,77 801,77 807,78C813,79 820,79 826,82C832,85 837,90 841,96C845,102 849,109 852,115C855,121 858,127 860,134C862,141 864,148 865,156Z" fill="none" stroke="#cdcdcd" stroke-width="3"/></g>
<g filter="url(#pblur)"><path d="M941,112C941,115 941,118 940,121C939,124 938,127 936,130C934,133 932,135 930,137C928,139 924,141 921,142C918,143 915,144 912,145C909,146 906,146 903,146C900,146 896,146 893,145C890,144 887,140 885,138C883,136 880,133 879,130C878,127 877,124 876,121C875,118 875,115 875,112C875,109 875,105 876,102C877,99 877,96 879,94C881,92 884,89 886,87C888,85 890,82 893,80C896,78 900,76 903,76C906,76 910,76 913,77C916,78 919,80 922,81C925,82 928,84 930,86C932,88 934,90 936,93C938,96 939,99 940,102C941,105 941,109 941,112Z" fill="#9e9e9e"/><path d="M941,112C941,115 941,118 940,121C939,124 938,127 936,130C934,133 932,135 930,137C928,139 924,141 921,142C918,143 915,144 912,145C909,146 906,146 903,146C900,146 896,146 893,145C890,144 887,140 885,138C883,136 880,133 879,130C878,127 877,124 876,121C875,118 875,115 875,112C875,109 875,105 876,102C877,99 877,96 879,94C881,92 884,89 886,87C888,85 890,82 893,80C896,78 900,76 903,76C906,76 910,76 913,77C916,78 919,80 922,81C925,82 928,84 930,86C932,88 934,90 936,93C938,96 939,99 940,102C941,105 941,109 941,112Z" fill="url(#rg)"/><path d="M940,112C940,115 939,118 938,121C937,124 936,126 935,129C934,132 931,134 929,136C927,138 924,140 921,141C918,142 915,142 912,143C909,144 906,145 903,145C900,145 896,144 893,143C890,142 888,139 886,137C884,135 882,132 880,129C878,126 878,124 877,121C876,118 876,115 876,112C876,109 876,106 877,103C878,100 879,96 881,94C883,92 885,90 887,88C889,86 891,84 894,82C897,80 900,78 903,78C906,78 909,78 912,79C915,80 918,81 921,82C924,83 927,85 929,87C931,89 934,91 935,94C936,97 937,100 938,103C939,106 940,109 940,112Z" fill="none" stroke="#cdcdcd" stroke-width="3"/></g>
<g filter="url(#pblur)"><path d="M983,188C983,193 981,198 979,203C977,208 975,212 973,216C971,220 968,224 965,227C962,230 959,234 955,236C951,238 947,240 943,241C939,242 935,242 931,241C927,240 923,238 919,236C915,234 911,231 908,228C905,225 901,222 899,218C897,214 895,208 894,203C893,198 893,193 893,188C893,183 894,177 895,172C896,167 897,162 899,158C901,154 905,149 908,146C911,143 915,140 919,138C923,136 927,136 931,136C935,136 939,137 943,138C947,139 951,139 955,140C959,141 964,143 967,146C970,149 973,154 975,158C977,162 980,167 981,172C982,177 983,183 983,188Z" fill="#989898"/><path d="M983,188C983,193 981,198 979,203C977,208 975,212 973,216C971,220 968,224 965,227C962,230 959,234 955,236C951,238 947,240 943,241C939,242 935,242 931,241C927,240 923,238 919,236C915,234 911,231 908,228C905,225 901,222 899,218C897,214 895,208 894,203C893,198 893,193 893,188C893,183 894,177 895,172C896,167 897,162 899,158C901,154 905,149 908,146C911,143 915,140 919,138C923,136 927,136 931,136C935,136 939,137 943,138C947,139 951,139 955,140C959,141 964,143 967,146C970,149 973,154 975,158C977,162 980,167 981,172C982,177 983,183 983,188Z" fill="url(#rg)"/><path d="M981,188C981,193 980,198 978,202C976,206 974,211 972,215C970,219 967,223 964,226C961,229 958,232 954,234C950,236 947,238 943,239C939,240 935,241 931,240C927,239 924,237 920,235C916,233 912,230 909,227C906,224 902,221 900,217C898,213 896,208 895,203C894,198 895,193 895,188C895,183 895,178 896,173C897,168 898,163 900,159C902,155 906,150 909,147C912,144 915,142 919,140C923,138 927,138 931,138C935,138 939,138 943,139C947,140 950,140 954,141C958,142 963,144 966,147C969,150 972,154 974,158C976,162 978,167 979,172C980,177 981,183 981,188Z" fill="none" stroke="#c3c3c3" stroke-width="3"/></g>
<g filter="url(#pblur)"><path d="M764,219C764,222 763,225 762,228C761,231 760,234 758,237C756,240 754,242 751,244C748,246 745,247 742,248C739,249 735,249 732,250C729,251 725,252 722,252C719,252 715,252 712,251C709,250 706,247 703,245C700,243 698,240 696,237C694,234 694,231 693,228C692,225 692,222 692,219C692,216 692,213 693,210C694,207 696,204 698,201C700,198 702,197 705,195C708,193 710,190 713,189C716,188 719,186 722,186C725,186 730,186 733,186C736,186 740,187 743,188C746,189 749,192 751,194C753,196 755,198 757,201C759,204 761,207 762,210C763,213 764,216 764,219Z" fill="#989898"/><path d="M764,219C764,222 763,225 762,228C761,231 760,234 758,237C756,240 754,242 751,244C748,246 745,247 742,248C739,249 735,249 732,250C729,251 725,252 722,252C719,252 715,252 712,251C709,250 706,247 703,245C700,243 698,240 696,237C694,234 694,231 693,228C692,225 692,222 692,219C692,216 692,213 693,210C694,207 696,204 698,201C700,198 702,197 705,195C708,193 710,190 713,189C716,188 719,186 722,186C725,186 730,186 733,186C736,186 740,187 743,188C746,189 749,192 751,194C753,196 755,198 757,201C759,204 761,207 762,210C763,213 764,216 764,219Z" fill="url(#rg)"/><path d="M763,219C763,222 762,225 761,228C760,231 758,234 756,236C754,238 752,240 750,242C748,244 744,245 741,246C738,247 735,248 732,249C729,250 726,251 723,251C720,251 715,250 712,249C709,248 706,246 704,244C702,242 700,240 698,237C696,234 696,231 695,228C694,225 694,222 694,219C694,216 694,213 695,210C696,207 697,204 699,202C701,200 704,198 706,196C708,194 710,192 713,191C716,190 720,188 723,187C726,186 730,186 733,187C736,188 739,189 742,190C745,191 748,193 750,195C752,197 754,200 756,202C758,204 760,207 761,210C762,213 763,216 763,219Z" fill="none" stroke="#cdcdcd" stroke-width="3"/></g>
<g filter="url(#pblur)"><path d="M904,157C904,159 904,160 903,162C902,164 902,165 901,166C900,167 898,168 897,169C896,170 895,170 894,171C893,172 890,173 889,173C888,173 886,173 885,173C884,173 882,172 881,171C880,170 878,170 877,169C876,168 875,167 874,166C873,165 872,164 871,162C870,160 871,159 871,157C871,155 872,154 872,152C872,150 872,149 873,148C874,147 875,146 876,145C877,144 878,143 880,142C882,141 884,141 885,141C886,141 888,142 889,142C890,142 892,142 893,143C894,144 896,144 897,145C898,146 899,147 900,148C901,149 902,150 903,152C904,154 904,155 904,157Z" fill="#8c8c8c"/><path d="M904,157C904,159 904,160 903,162C902,164 902,165 901,166C900,167 898,168 897,169C896,170 895,170 894,171C893,172 890,173 889,173C888,173 886,173 885,173C884,173 882,172 881,171C880,170 878,170 877,169C876,168 875,167 874,166C873,165 872,164 871,162C870,160 871,159 871,157C871,155 872,154 872,152C872,150 872,149 873,148C874,147 875,146 876,145C877,144 878,143 880,142C882,141 884,141 885,141C886,141 888,142 889,142C890,142 892,142 893,143C894,144 896,144 897,145C898,146 899,147 900,148C901,149 902,150 903,152C904,154 904,155 904,157Z" fill="url(#rg)"/><path d="M902,157C902,158 902,160 901,161C900,162 900,164 899,165C898,166 897,167 896,168C895,169 894,170 893,170C892,170 890,171 889,171C888,171 886,171 885,171C884,171 882,170 881,170C880,170 879,169 878,168C877,167 876,166 875,165C874,164 874,162 873,161C872,160 872,158 872,157C872,156 872,154 873,153C874,152 874,150 875,149C876,148 876,147 877,146C878,145 880,144 881,144C882,144 884,143 885,143C886,143 888,143 889,143C890,143 892,144 893,144C894,144 895,145 896,146C897,147 898,148 899,149C900,150 900,152 901,153C902,154 902,156 902,157Z" fill="none" stroke="#afafaf" stroke-width="3"/></g>
<g filter="url(#pblur)"><path d="M1005,334C1005,342 1004,350 1002,357C1000,364 995,372 991,379C987,386 982,392 976,397C970,402 962,407 955,410C948,413 939,415 931,416C923,417 914,418 906,417C898,416 890,414 882,411C874,408 867,402 861,397C855,392 849,386 845,379C841,372 838,364 837,357C836,350 836,342 836,334C836,326 837,319 838,311C839,303 840,295 844,288C848,281 854,275 860,270C866,265 874,260 882,257C890,254 898,252 906,251C914,250 923,251 931,252C939,253 948,255 955,258C962,261 970,266 976,271C982,276 987,283 991,290C995,297 998,304 1000,311C1002,318 1005,326 1005,334Z" fill="#989898"/><path d="M1005,334C1005,342 1004,350 1002,357C1000,364 995,372 991,379C987,386 982,392 976,397C970,402 962,407 955,410C948,413 939,415 931,416C923,417 914,418 906,417C898,416 890,414 882,411C874,408 867,402 861,397C855,392 849,386 845,379C841,372 838,364 837,357C836,350 836,342 836,334C836,326 837,319 838,311C839,303 840,295 844,288C848,281 854,275 860,270C866,265 874,260 882,257C890,254 898,252 906,251C914,250 923,251 931,252C939,253 948,255 955,258C962,261 970,266 976,271C982,276 987,283 991,290C995,297 998,304 1000,311C1002,318 1005,326 1005,334Z" fill="url(#rg)"/><path d="M1004,334C1004,342 1003,350 1001,357C999,364 994,372 990,378C986,384 981,391 975,396C969,401 962,406 955,409C948,412 939,414 931,415C923,416 914,417 906,416C898,415 890,412 883,409C876,406 868,401 862,396C856,391 850,384 846,378C842,372 839,364 838,357C837,350 838,342 838,334C838,326 838,320 839,312C840,304 841,296 845,289C849,282 855,276 861,271C867,266 876,262 883,259C890,256 898,254 906,253C914,252 923,252 931,253C939,254 947,256 954,259C961,262 969,267 975,272C981,277 986,284 990,291C994,298 997,305 999,312C1001,319 1004,326 1004,334Z" fill="none" stroke="#c3c3c3" stroke-width="3"/></g>
<g filter="url(#pblur)"><path d="M1160,345C1159,347 1158,349 1157,351C1156,353 1155,354 1153,355C1151,356 1149,357 1147,358C1145,359 1143,359 1141,359C1139,359 1136,359 1134,359C1132,359 1129,358 1127,357C1125,356 1122,355 1121,353C1120,351 1119,349 1118,347C1117,345 1116,343 1115,341C1114,339 1115,337 1115,335C1115,333 1115,331 1116,329C1117,327 1118,326 1119,324C1120,322 1121,320 1123,319C1125,318 1127,316 1129,315C1131,314 1133,314 1135,314C1137,314 1140,314 1142,315C1144,316 1146,317 1148,318C1150,319 1152,320 1154,322C1156,324 1158,325 1159,327C1160,329 1161,331 1161,333C1161,335 1161,337 1161,339C1161,341 1161,343 1160,345Z" fill="#a0a0a0"/><path d="M1160,345C1159,347 1158,349 1157,351C1156,353 1155,354 1153,355C1151,356 1149,357 1147,358C1145,359 1143,359 1141,359C1139,359 1136,359 1134,359C1132,359 1129,358 1127,357C1125,356 1122,355 1121,353C1120,351 1119,349 1118,347C1117,345 1116,343 1115,341C1114,339 1115,337 1115,335C1115,333 1115,331 1116,329C1117,327 1118,326 1119,324C1120,322 1121,320 1123,319C1125,318 1127,316 1129,315C1131,314 1133,314 1135,314C1137,314 1140,314 1142,315C1144,316 1146,317 1148,318C1150,319 1152,320 1154,322C1156,324 1158,325 1159,327C1160,329 1161,331 1161,333C1161,335 1161,337 1161,339C1161,341 1161,343 1160,345Z" fill="url(#rg)"/><path d="M1159,345C1158,347 1157,348 1156,350C1155,352 1154,353 1152,354C1150,355 1149,356 1147,357C1145,358 1142,358 1140,358C1138,358 1136,358 1134,357C1132,356 1130,356 1128,355C1126,354 1124,354 1122,352C1120,350 1120,348 1119,346C1118,344 1118,343 1117,341C1116,339 1116,337 1116,335C1116,333 1117,332 1118,330C1119,328 1119,327 1120,325C1121,323 1122,321 1124,320C1126,319 1127,318 1129,317C1131,316 1134,315 1136,315C1138,315 1140,315 1142,316C1144,317 1146,318 1148,319C1150,320 1152,322 1153,323C1154,324 1156,325 1157,327C1158,329 1160,331 1160,333C1160,335 1160,337 1160,339C1160,341 1160,343 1159,345Z" fill="none" stroke="#d2d2d2" stroke-width="3"/></g>
<g filter="url(#pblur)"><path d="M866,571C867,581 868,593 866,603C864,613 860,624 855,633C850,642 842,650 834,657C826,664 818,670 809,674C800,678 791,682 781,684C771,686 761,686 751,684C741,682 731,680 722,675C713,670 706,662 699,655C692,648 686,640 680,631C674,622 669,613 666,603C663,593 660,582 660,571C660,560 664,549 667,539C670,529 675,520 680,511C685,502 692,494 699,487C706,480 714,474 723,469C732,464 741,460 751,458C761,456 771,454 781,455C791,456 802,460 811,465C820,470 828,476 835,484C842,492 848,502 852,511C856,520 859,531 861,541C863,551 865,561 866,571Z" fill="#8c8c8c"/><path d="M866,571C867,581 868,593 866,603C864,613 860,624 855,633C850,642 842,650 834,657C826,664 818,670 809,674C800,678 791,682 781,684C771,686 761,686 751,684C741,682 731,680 722,675C713,670 706,662 699,655C692,648 686,640 680,631C674,622 669,613 666,603C663,593 660,582 660,571C660,560 664,549 667,539C670,529 675,520 680,511C685,502 692,494 699,487C706,480 714,474 723,469C732,464 741,460 751,458C761,456 771,454 781,455C791,456 802,460 811,465C820,470 828,476 835,484C842,492 848,502 852,511C856,520 859,531 861,541C863,551 865,561 866,571Z" fill="url(#rg)"/><path d="M865,571C866,581 867,593 865,603C863,613 859,623 854,632C849,641 840,649 833,656C826,663 818,668 809,673C800,678 791,681 781,683C771,685 761,685 751,683C741,681 732,678 723,673C714,668 707,661 700,654C693,647 688,638 682,630C676,622 670,613 667,603C664,593 662,582 662,571C662,560 665,550 668,540C671,530 676,521 681,512C686,503 693,495 700,488C707,481 716,476 724,471C732,466 742,461 751,459C760,457 771,456 781,457C791,458 801,461 810,466C819,471 827,478 834,486C841,494 847,503 851,512C855,521 858,531 860,541C862,551 864,561 865,571Z" fill="none" stroke="#cdcdcd" stroke-width="3"/></g>
<g filter="url(#pblur)"><path d="M1043,513C1043,521 1042,530 1039,538C1036,546 1031,552 1027,558C1023,564 1018,570 1013,575C1008,580 1004,585 998,589C992,593 986,597 980,599C974,601 966,601 960,600C954,599 947,596 941,592C935,588 930,582 925,576C920,570 916,565 912,559C908,553 903,546 901,538C899,530 899,521 899,513C899,505 901,497 903,489C905,481 908,473 911,466C914,459 918,452 923,447C928,442 935,438 941,435C947,432 954,430 960,429C966,428 974,428 980,430C986,432 992,435 998,438C1004,441 1011,444 1016,448C1021,452 1026,458 1030,465C1034,472 1037,480 1039,488C1041,496 1043,505 1043,513Z" fill="#a0a0a0"/><path d="M1043,513C1043,521 1042,530 1039,538C1036,546 1031,552 1027,558C1023,564 1018,570 1013,575C1008,580 1004,585 998,589C992,593 986,597 980,599C974,601 966,601 960,600C954,599 947,596 941,592C935,588 930,582 925,576C920,570 916,565 912,559C908,553 903,546 901,538C899,530 899,521 899,513C899,505 901,497 903,489C905,481 908,473 911,466C914,459 918,452 923,447C928,442 935,438 941,435C947,432 954,430 960,429C966,428 974,428 980,430C986,432 992,435 998,438C1004,441 1011,444 1016,448C1021,452 1026,458 1030,465C1034,472 1037,480 1039,488C1041,496 1043,505 1043,513Z" fill="url(#rg)"/><path d="M1041,513C1041,521 1040,530 1038,537C1036,544 1030,551 1026,557C1022,563 1017,568 1012,573C1007,578 1003,584 998,588C993,592 986,596 980,598C974,600 966,600 960,599C954,598 947,595 941,591C935,587 931,580 926,575C921,570 917,564 913,558C909,552 905,544 903,537C901,530 900,521 900,513C900,505 903,497 905,489C907,481 909,474 912,467C915,460 919,453 924,448C929,443 935,439 941,436C947,433 954,431 960,430C966,429 973,430 979,432C985,434 991,436 997,439C1003,442 1010,444 1015,449C1020,454 1025,459 1029,466C1033,473 1035,481 1037,489C1039,497 1041,505 1041,513Z" fill="none" stroke="#c8c8c8" stroke-width="3"/></g>
<g filter="url(#pblur)"><path d="M1180,491C1184,499 1186,507 1188,515C1190,523 1192,532 1193,540C1194,548 1193,557 1191,564C1189,571 1184,578 1179,584C1174,590 1169,594 1163,598C1157,602 1150,604 1144,606C1138,608 1131,610 1124,611C1117,612 1108,612 1101,610C1094,608 1087,604 1080,599C1073,594 1067,588 1061,582C1055,576 1050,570 1046,562C1042,554 1039,545 1037,537C1035,529 1036,521 1036,513C1036,505 1036,497 1038,489C1040,481 1041,473 1045,467C1049,461 1055,455 1061,451C1067,447 1074,444 1081,442C1088,440 1095,441 1102,442C1109,443 1117,445 1124,447C1131,449 1139,450 1146,454C1153,458 1160,462 1166,468C1172,474 1176,483 1180,491Z" fill="#949494"/><path d="M1180,491C1184,499 1186,507 1188,515C1190,523 1192,532 1193,540C1194,548 1193,557 1191,564C1189,571 1184,578 1179,584C1174,590 1169,594 1163,598C1157,602 1150,604 1144,606C1138,608 1131,610 1124,611C1117,612 1108,612 1101,610C1094,608 1087,604 1080,599C1073,594 1067,588 1061,582C1055,576 1050,570 1046,562C1042,554 1039,545 1037,537C1035,529 1036,521 1036,513C1036,505 1036,497 1038,489C1040,481 1041,473 1045,467C1049,461 1055,455 1061,451C1067,447 1074,444 1081,442C1088,440 1095,441 1102,442C1109,443 1117,445 1124,447C1131,449 1139,450 1146,454C1153,458 1160,462 1166,468C1172,474 1176,483 1180,491Z" fill="url(#rg)"/><path d="M1178,491C1182,498 1185,507 1187,515C1189,523 1192,532 1192,540C1192,548 1191,557 1189,564C1187,571 1182,578 1178,583C1174,588 1168,593 1162,597C1156,601 1150,603 1144,605C1138,607 1131,609 1124,610C1117,611 1109,611 1102,609C1095,607 1088,603 1081,598C1074,593 1068,587 1062,581C1056,575 1051,568 1047,561C1043,554 1041,545 1039,537C1037,529 1037,521 1037,513C1037,505 1037,498 1039,490C1041,482 1043,474 1047,468C1051,462 1055,456 1061,452C1067,448 1074,446 1081,444C1088,442 1096,442 1103,443C1110,444 1117,446 1124,448C1131,450 1138,451 1145,455C1152,459 1160,464 1165,470C1170,476 1174,484 1178,491Z" fill="none" stroke="#bebebe" stroke-width="3"/></g>
<g filter="url(#pblur)"><path d="M1117,417C1117,419 1117,422 1116,424C1115,426 1114,428 1112,430C1110,432 1108,434 1106,436C1104,438 1102,440 1099,441C1096,442 1092,443 1089,443C1086,443 1082,443 1079,442C1076,441 1073,440 1070,439C1067,438 1064,438 1062,436C1060,434 1058,432 1056,430C1054,428 1052,426 1051,424C1050,422 1050,419 1050,417C1050,415 1051,412 1052,410C1053,408 1054,406 1056,404C1058,402 1059,400 1061,398C1063,396 1067,395 1070,394C1073,393 1076,392 1079,392C1082,392 1086,392 1089,392C1092,392 1095,393 1098,394C1101,395 1104,396 1106,398C1108,400 1111,401 1113,403C1115,405 1115,408 1116,410C1117,412 1117,415 1117,417Z" fill="#8a8a8a"/><path d="M1117,417C1117,419 1117,422 1116,424C1115,426 1114,428 1112,430C1110,432 1108,434 1106,436C1104,438 1102,440 1099,441C1096,442 1092,443 1089,443C1086,443 1082,443 1079,442C1076,441 1073,440 1070,439C1067,438 1064,438 1062,436C1060,434 1058,432 1056,430C1054,428 1052,426 1051,424C1050,422 1050,419 1050,417C1050,415 1051,412 1052,410C1053,408 1054,406 1056,404C1058,402 1059,400 1061,398C1063,396 1067,395 1070,394C1073,393 1076,392 1079,392C1082,392 1086,392 1089,392C1092,392 1095,393 1098,394C1101,395 1104,396 1106,398C1108,400 1111,401 1113,403C1115,405 1115,408 1116,410C1117,412 1117,415 1117,417Z" fill="url(#rg)"/><path d="M1115,417C1115,419 1116,422 1115,424C1114,426 1113,428 1111,430C1109,432 1107,434 1105,435C1103,436 1101,438 1098,439C1095,440 1092,441 1089,441C1086,441 1082,440 1079,440C1076,440 1074,439 1071,438C1068,437 1065,435 1063,434C1061,433 1059,432 1057,430C1055,428 1054,426 1053,424C1052,422 1051,419 1051,417C1051,415 1052,413 1053,411C1054,409 1056,406 1057,404C1058,402 1060,400 1062,399C1064,398 1067,397 1070,396C1073,395 1076,394 1079,394C1082,394 1086,393 1089,393C1092,393 1095,394 1098,395C1101,396 1103,398 1105,399C1107,400 1109,402 1111,404C1113,406 1114,409 1115,411C1116,413 1115,415 1115,417Z" fill="none" stroke="#afafaf" stroke-width="3"/></g>
<g filter="url(#pblur)"><path d="M1190,430C1190,433 1190,436 1189,439C1188,442 1188,444 1187,447C1186,450 1184,452 1182,454C1180,456 1177,458 1175,459C1173,460 1171,461 1168,462C1165,463 1162,464 1159,463C1156,462 1154,460 1152,459C1150,458 1147,456 1145,454C1143,452 1142,450 1140,447C1138,444 1137,442 1136,439C1135,436 1136,433 1136,430C1136,427 1136,424 1137,421C1138,418 1139,416 1140,413C1141,410 1143,408 1145,406C1147,404 1150,402 1152,401C1154,400 1158,398 1160,398C1162,398 1164,398 1167,398C1170,398 1173,399 1176,400C1179,401 1181,403 1183,405C1185,407 1186,410 1187,413C1188,416 1190,418 1190,421C1190,424 1190,427 1190,430Z" fill="#8a8a8a"/><path d="M1190,430C1190,433 1190,436 1189,439C1188,442 1188,444 1187,447C1186,450 1184,452 1182,454C1180,456 1177,458 1175,459C1173,460 1171,461 1168,462C1165,463 1162,464 1159,463C1156,462 1154,460 1152,459C1150,458 1147,456 1145,454C1143,452 1142,450 1140,447C1138,444 1137,442 1136,439C1135,436 1136,433 1136,430C1136,427 1136,424 1137,421C1138,418 1139,416 1140,413C1141,410 1143,408 1145,406C1147,404 1150,402 1152,401C1154,400 1158,398 1160,398C1162,398 1164,398 1167,398C1170,398 1173,399 1176,400C1179,401 1181,403 1183,405C1185,407 1186,410 1187,413C1188,416 1190,418 1190,421C1190,424 1190,427 1190,430Z" fill="url(#rg)"/><path d="M1189,430C1189,433 1188,435 1188,438C1188,441 1187,444 1186,446C1185,448 1183,451 1181,453C1179,455 1177,457 1175,458C1173,459 1170,460 1167,461C1164,462 1162,462 1160,461C1158,460 1155,459 1153,458C1151,457 1148,455 1146,453C1144,451 1142,449 1141,447C1140,445 1139,442 1138,439C1137,436 1137,433 1137,430C1137,427 1137,425 1138,422C1139,419 1141,416 1142,414C1143,412 1144,409 1146,407C1148,405 1150,403 1152,402C1154,401 1158,400 1160,400C1162,400 1164,400 1167,400C1170,400 1172,400 1175,401C1178,402 1180,404 1182,406C1184,408 1185,410 1186,413C1187,416 1188,419 1188,422C1188,425 1189,427 1189,430Z" fill="none" stroke="#afafaf" stroke-width="3"/></g>
<g filter="url(#pblur)"><path d="M925,650C925,654 924,657 923,661C922,665 922,668 920,672C918,676 916,679 914,682C912,685 910,687 907,689C904,691 900,692 897,693C894,694 890,693 887,692C884,691 881,691 878,689C875,687 871,685 869,682C867,679 865,676 864,672C863,668 862,665 861,661C860,657 859,654 859,650C859,646 858,642 859,638C860,634 861,630 863,627C865,624 868,620 870,618C872,616 875,614 878,613C881,612 884,610 887,609C890,608 894,607 897,607C900,607 904,608 907,610C910,612 913,615 915,618C917,621 918,624 920,627C922,630 923,634 924,638C925,642 925,646 925,650Z" fill="#707070"/><path d="M925,650C925,654 924,657 923,661C922,665 922,668 920,672C918,676 916,679 914,682C912,685 910,687 907,689C904,691 900,692 897,693C894,694 890,693 887,692C884,691 881,691 878,689C875,687 871,685 869,682C867,679 865,676 864,672C863,668 862,665 861,661C860,657 859,654 859,650C859,646 858,642 859,638C860,634 861,630 863,627C865,624 868,620 870,618C872,616 875,614 878,613C881,612 884,610 887,609C890,608 894,607 897,607C900,607 904,608 907,610C910,612 913,615 915,618C917,621 918,624 920,627C922,630 923,634 924,638C925,642 925,646 925,650Z" fill="url(#rg)"/><path d="M923,650C923,654 923,658 922,661C921,664 920,668 919,671C918,674 915,678 913,681C911,684 909,686 906,688C903,690 900,692 897,692C894,692 890,692 887,691C884,690 881,689 878,687C875,685 872,684 870,681C868,678 866,675 865,672C864,669 863,665 862,661C861,657 860,654 860,650C860,646 860,643 861,639C862,635 862,631 864,628C866,625 868,621 871,619C874,617 876,616 879,614C882,612 884,611 887,610C890,609 894,609 897,609C900,609 903,609 906,611C909,613 912,616 914,619C916,622 918,625 919,628C920,631 922,635 923,639C924,643 923,646 923,650Z" fill="none" stroke="#8c8c8c" stroke-width="3"/></g>
<g filter="url(#pblur)"><path d="M991,412C991,413 990,415 990,416C990,417 990,419 989,420C988,421 987,422 986,423C985,424 983,425 982,426C981,427 979,427 978,427C977,427 975,427 974,427C973,427 971,426 970,425C969,424 967,424 966,423C965,422 964,421 963,420C962,419 962,417 961,416C960,415 960,413 960,412C960,411 961,409 962,408C963,407 963,405 964,404C965,403 965,402 966,401C967,400 969,399 970,398C971,397 973,397 974,397C975,397 977,397 978,397C979,397 981,398 982,398C983,398 985,399 986,400C987,401 988,403 989,404C990,405 991,407 991,408C991,409 991,411 991,412Z" fill="#6e6e6e"/><path d="M991,412C991,413 990,415 990,416C990,417 990,419 989,420C988,421 987,422 986,423C985,424 983,425 982,426C981,427 979,427 978,427C977,427 975,427 974,427C973,427 971,426 970,425C969,424 967,424 966,423C965,422 964,421 963,420C962,419 962,417 961,416C960,415 960,413 960,412C960,411 961,409 962,408C963,407 963,405 964,404C965,403 965,402 966,401C967,400 969,399 970,398C971,397 973,397 974,397C975,397 977,397 978,397C979,397 981,398 982,398C983,398 985,399 986,400C987,401 988,403 989,404C990,405 991,407 991,408C991,409 991,411 991,412Z" fill="url(#rg)"/><path d="M989,412C989,413 989,415 989,416C989,417 988,418 987,419C986,420 986,421 985,422C984,423 983,424 982,424C981,424 979,425 978,425C977,425 975,425 974,425C973,425 972,424 971,424C970,424 968,423 967,422C966,421 965,420 964,419C963,418 962,417 962,416C962,415 962,413 962,412C962,411 962,409 963,408C964,407 964,406 965,405C966,404 966,403 967,402C968,401 969,400 970,400C971,400 973,399 974,399C975,399 977,399 978,399C979,399 981,400 982,400C983,400 984,401 985,402C986,403 987,403 988,404C989,405 989,407 989,408C989,409 989,411 989,412Z" fill="none" stroke="#8c8c8c" stroke-width="3"/></g>
</g></g>
<text x="1157.5" y="128.9" font-size="37.5" font-weight="bold" font-family="'Liberation Sans', Arial, sans-serif" fill="#fff" textLength="97" lengthAdjust="spacingAndGlyphs">300th</text>
<text x="1162" y="644.7" font-size="37.5" font-weight="bold" font-family="'Liberation Sans', Arial, sans-serif" fill="#fff" textLength="106.5" lengthAdjust="spacingAndGlyphs">10 µm</text>
<rect x="1176.8" y="670" width="72.4" height="11" fill="#fff"/>
<text x="16.0" y="33.8" font-size="34" font-weight="bold" font-family="'Liberation Serif', 'Times New Roman', serif" fill="#000">(A)</text>
<text x="673.0" y="33.8" font-size="34" font-weight="bold" font-family="'Liberation Serif', 'Times New Roman', serif" fill="#000">(B)</text>
<text x="1393.5" y="26.8" font-size="34" font-weight="bold" font-family="'Liberation Serif', 'Times New Roman', serif" fill="#000">(C)</text>
<text x="0.0" y="798.4" font-size="34" font-weight="bold" font-family="'Liberation Serif', 'Times New Roman', serif" fill="#000">(D)</text>
<text x="707.5" y="797.6" font-size="34" font-weight="bold" font-family="'Liberation Serif', 'Times New Roman', serif" fill="#000">(E)</text>
<text x="1405.0" y="792.6" font-size="34" font-weight="bold" font-family="'Liberation Serif', 'Times New Roman', serif" fill="#000">(F)</text>
<text x="276.0" y="38.2" font-size="38" font-weight="bold" font-family="'Liberation Sans', Arial, Helvetica, sans-serif" fill="#000" textLength="82.0" lengthAdjust="spacingAndGlyphs">NCA</text>
<text x="842.0" y="38.2" font-size="38" font-weight="bold" font-family="'Liberation Sans', Arial, Helvetica, sans-serif" fill="#000" textLength="269.0" lengthAdjust="spacingAndGlyphs">Na-doped NCA</text>
<line x1="1503.3" y1="96.8" x2="2050.8" y2="96.8" stroke="#8a8a8a" stroke-width="2.2" />
<line x1="2050.8" y1="96.8" x2="2050.8" y2="606.6" stroke="#8a8a8a" stroke-width="2.2" />
<line x1="1503.3" y1="95.7" x2="1503.3" y2="607.7" stroke="#555" stroke-width="2.2" />
<line x1="1502.2" y1="606.6" x2="2051.9" y2="606.6" stroke="#444" stroke-width="2.4" />
<line x1="1516.3" y1="606.6" x2="1516.3" y2="598.6" stroke="#444" stroke-width="2" />
<line x1="1516.3" y1="96.8" x2="1516.3" y2="104.8" stroke="#444" stroke-width="2" />
<line x1="1560.6" y1="606.6" x2="1560.6" y2="601.6" stroke="#444" stroke-width="2" />
<line x1="1560.6" y1="96.8" x2="1560.6" y2="101.8" stroke="#444" stroke-width="2" />
<line x1="1604.9" y1="606.6" x2="1604.9" y2="598.6" stroke="#444" stroke-width="2" />
<line x1="1604.9" y1="96.8" x2="1604.9" y2="104.8" stroke="#444" stroke-width="2" />
<line x1="1649.1" y1="606.6" x2="1649.1" y2="601.6" stroke="#444" stroke-width="2" />
<line x1="1649.1" y1="96.8" x2="1649.1" y2="101.8" stroke="#444" stroke-width="2" />
<line x1="1693.4" y1="606.6" x2="1693.4" y2="598.6" stroke="#444" stroke-width="2" />
<line x1="1693.4" y1="96.8" x2="1693.4" y2="104.8" stroke="#444" stroke-width="2" />
<line x1="1737.7" y1="606.6" x2="1737.7" y2="601.6" stroke="#444" stroke-width="2" />
<line x1="1737.7" y1="96.8" x2="1737.7" y2="101.8" stroke="#444" stroke-width="2" />
<line x1="1782.0" y1="606.6" x2="1782.0" y2="598.6" stroke="#444" stroke-width="2" />
<line x1="1782.0" y1="96.8" x2="1782.0" y2="104.8" stroke="#444" stroke-width="2" />
<line x1="1826.3" y1="606.6" x2="1826.3" y2="601.6" stroke="#444" stroke-width="2" />
<line x1="1826.3" y1="96.8" x2="1826.3" y2="101.8" stroke="#444" stroke-width="2" />
<line x1="1870.5" y1="606.6" x2="1870.5" y2="598.6" stroke="#444" stroke-width="2" />
<line x1="1870.5" y1="96.8" x2="1870.5" y2="104.8" stroke="#444" stroke-width="2" />
<line x1="1914.8" y1="606.6" x2="1914.8" y2="601.6" stroke="#444" stroke-width="2" />
<line x1="1914.8" y1="96.8" x2="1914.8" y2="101.8" stroke="#444" stroke-width="2" />
<line x1="1959.1" y1="606.6" x2="1959.1" y2="598.6" stroke="#444" stroke-width="2" />
<line x1="1959.1" y1="96.8" x2="1959.1" y2="104.8" stroke="#444" stroke-width="2" />
<line x1="2003.4" y1="606.6" x2="2003.4" y2="601.6" stroke="#444" stroke-width="2" />
<line x1="2003.4" y1="96.8" x2="2003.4" y2="101.8" stroke="#444" stroke-width="2" />
<line x1="2047.7" y1="606.6" x2="2047.7" y2="598.6" stroke="#444" stroke-width="2" />
<line x1="2047.7" y1="96.8" x2="2047.7" y2="104.8" stroke="#444" stroke-width="2" />
<line x1="1503.3" y1="606.6" x2="1512.3" y2="606.6" stroke="#444" stroke-width="2" />
<line x1="2050.8" y1="606.6" x2="2041.8" y2="606.6" stroke="#444" stroke-width="2" />
<line x1="1503.3" y1="555.6" x2="1508.3" y2="555.6" stroke="#444" stroke-width="2" />
<line x1="2050.8" y1="555.6" x2="2045.8" y2="555.6" stroke="#444" stroke-width="2" />
<line x1="1503.3" y1="504.6" x2="1512.3" y2="504.6" stroke="#444" stroke-width="2" />
<line x1="2050.8" y1="504.6" x2="2041.8" y2="504.6" stroke="#444" stroke-width="2" />
<line x1="1503.3" y1="453.6" x2="1508.3" y2="453.6" stroke="#444" stroke-width="2" />
<line x1="2050.8" y1="453.6" x2="2045.8" y2="453.6" stroke="#444" stroke-width="2" />
<line x1="1503.3" y1="402.6" x2="1512.3" y2="402.6" stroke="#444" stroke-width="2" />
<line x1="2050.8" y1="402.6" x2="2041.8" y2="402.6" stroke="#444" stroke-width="2" />
<line x1="1503.3" y1="351.6" x2="1508.3" y2="351.6" stroke="#444" stroke-width="2" />
<line x1="2050.8" y1="351.6" x2="2045.8" y2="351.6" stroke="#444" stroke-width="2" />
<line x1="1503.3" y1="300.6" x2="1512.3" y2="300.6" stroke="#444" stroke-width="2" />
<line x1="2050.8" y1="300.6" x2="2041.8" y2="300.6" stroke="#444" stroke-width="2" />
<line x1="1503.3" y1="249.6" x2="1508.3" y2="249.6" stroke="#444" stroke-width="2" />
<line x1="2050.8" y1="249.6" x2="2045.8" y2="249.6" stroke="#444" stroke-width="2" />
<line x1="1503.3" y1="198.6" x2="1512.3" y2="198.6" stroke="#444" stroke-width="2" />
<line x1="2050.8" y1="198.6" x2="2041.8" y2="198.6" stroke="#444" stroke-width="2" />
<line x1="1503.3" y1="147.6" x2="1508.3" y2="147.6" stroke="#444" stroke-width="2" />
<line x1="2050.8" y1="147.6" x2="2045.8" y2="147.6" stroke="#444" stroke-width="2" />
<line x1="1503.3" y1="96.6" x2="1512.3" y2="96.6" stroke="#444" stroke-width="2" />
<line x1="2050.8" y1="96.6" x2="2041.8" y2="96.6" stroke="#444" stroke-width="2" />
<text x="0" y="0" transform="translate(1516.3 652.4) scale(1 1.075)" font-size="36.5" font-weight="bold" font-family="'Liberation Sans', Arial, Helvetica, sans-serif" fill="#000" text-anchor="middle">0</text>
<text x="0" y="0" transform="translate(1604.9 652.4) scale(1 1.075)" font-size="36.5" font-weight="bold" font-family="'Liberation Sans', Arial, Helvetica, sans-serif" fill="#000" text-anchor="middle">2</text>
<text x="0" y="0" transform="translate(1693.4 652.4) scale(1 1.075)" font-size="36.5" font-weight="bold" font-family="'Liberation Sans', Arial, Helvetica, sans-serif" fill="#000" text-anchor="middle">4</text>
<text x="0" y="0" transform="translate(1782.0 652.4) scale(1 1.075)" font-size="36.5" font-weight="bold" font-family="'Liberation Sans', Arial, Helvetica, sans-serif" fill="#000" text-anchor="middle">6</text>
<text x="0" y="0" transform="translate(1870.5 652.4) scale(1 1.075)" font-size="36.5" font-weight="bold" font-family="'Liberation Sans', Arial, Helvetica, sans-serif" fill="#000" text-anchor="middle">8</text>
<text x="0" y="0" transform="translate(1959.1 652.4) scale(1 1.075)" font-size="36.5" font-weight="bold" font-family="'Liberation Sans', Arial, Helvetica, sans-serif" fill="#000" text-anchor="middle">10</text>
<text x="0" y="0" transform="translate(2047.7 652.4) scale(1 1.075)" font-size="36.5" font-weight="bold" font-family="'Liberation Sans', Arial, Helvetica, sans-serif" fill="#000" text-anchor="middle">12</text>
<text x="0" y="0" transform="translate(1482.0 618.8) scale(1 1.075)" font-size="37" font-weight="bold" font-family="'Liberation Sans', Arial, Helvetica, sans-serif" fill="#000" text-anchor="end">0.0</text>
<text x="0" y="0" transform="translate(1482.0 517.9) scale(1 1.075)" font-size="37" font-weight="bold" font-family="'Liberation Sans', Arial, Helvetica, sans-serif" fill="#000" text-anchor="end">0.2</text>
<text x="0" y="0" transform="translate(1482.0 416.9) scale(1 1.075)" font-size="37" font-weight="bold" font-family="'Liberation Sans', Arial, Helvetica, sans-serif" fill="#000" text-anchor="end">0.4</text>
<text x="0" y="0" transform="translate(1482.0 316.0) scale(1 1.075)" font-size="37" font-weight="bold" font-family="'Liberation Sans', Arial, Helvetica, sans-serif" fill="#000" text-anchor="end">0.6</text>
<text x="0" y="0" transform="translate(1482.0 215.0) scale(1 1.075)" font-size="37" font-weight="bold" font-family="'Liberation Sans', Arial, Helvetica, sans-serif" fill="#000" text-anchor="end">0.8</text>
<text x="0" y="0" transform="translate(1482.0 114.1) scale(1 1.075)" font-size="37" font-weight="bold" font-family="'Liberation Sans', Arial, Helvetica, sans-serif" fill="#000" text-anchor="end">1.0</text>
<text x="1598.0" y="701.4" font-size="38" font-weight="bold" font-family="'Liberation Sans', Arial, Helvetica, sans-serif" fill="#000" textLength="327.0" lengthAdjust="spacingAndGlyphs">Current (in C-rate)</text>
<text x="1401.0" y="505.0" font-size="37.6" font-weight="bold" font-family="'Liberation Sans', Arial, Helvetica, sans-serif" fill="#000" textLength="349.0" lengthAdjust="spacingAndGlyphs" transform="rotate(-90 1401.0 505.0)">Overpotential (Volt)</text>
<rect x="1504.7" y="34.6" width="349.5" height="49.5" fill="#fff" stroke="#333" stroke-width="2"/>
<text x="1520.0" y="69.8" font-size="34" font-weight="bold" font-family="'Liberation Sans', Arial, Helvetica, sans-serif" fill="#000" textLength="315.0" lengthAdjust="spacingAndGlyphs">Overpotential plots</text>
<line x1="1519.0" y1="582.0" x2="1969.7" y2="220.4" stroke="#ff1a1a" stroke-width="2.2" />
<line x1="1519.0" y1="581.2" x2="1963.5" y2="271.8" stroke="#000" stroke-width="2.2" />
<line x1="1512.0" y1="574.1" x2="1963.5" y2="411.1" stroke="#1010ff" stroke-width="2.2" />
<line x1="1509.0" y1="579.5" x2="1965.0" y2="456.8" stroke="#10a030" stroke-width="2.2" />
<polygon points="1508.7,583.0 1532.7,583.0 1520.7,563.0" fill="#10962a"/>
<polygon points="1548.6,573.8 1572.6,573.8 1560.6,553.8" fill="#10962a"/>
<polygon points="1592.9,561.1 1616.9,561.1 1604.9,541.1" fill="#10962a"/>
<polygon points="1725.7,525.4 1749.7,525.4 1737.7,505.4" fill="#10962a"/>
<polygon points="1858.5,489.7 1882.5,489.7 1870.5,469.7" fill="#10962a"/>
<polygon points="1947.1,463.1 1971.1,463.1 1959.1,443.1" fill="#10962a"/>
<polygon points="1508.7,566.0 1532.7,566.0 1520.7,586.0" fill="#0a0aff"/>
<polygon points="1548.6,558.3 1572.6,558.3 1560.6,578.3" fill="#0a0aff"/>
<polygon points="1592.9,541.0 1616.9,541.0 1604.9,561.0" fill="#0a0aff"/>
<polygon points="1725.7,495.6 1749.7,495.6 1737.7,515.6" fill="#0a0aff"/>
<polygon points="1858.5,439.0 1882.5,439.0 1870.5,459.0" fill="#0a0aff"/>
<polygon points="1947.1,390.0 1971.1,390.0 1959.1,410.0" fill="#0a0aff"/>
<circle cx="1520.7" cy="568.9" r="9.8" fill="#ff0a0a"/>
<circle cx="1560.6" cy="552.0" r="9.8" fill="#ff0a0a"/>
<circle cx="1604.9" cy="533.4" r="9.8" fill="#ff0a0a"/>
<circle cx="1737.7" cy="455.1" r="9.8" fill="#ff0a0a"/>
<circle cx="1870.5" cy="325.6" r="9.8" fill="#ff0a0a"/>
<circle cx="1959.1" cy="198.6" r="9.8" fill="#ff0a0a"/>
<rect x="1512.0" y="562.1" width="17.5" height="17.5" fill="#000"/>
<rect x="1551.8" y="542.3" width="17.5" height="17.5" fill="#000"/>
<rect x="1596.1" y="512.7" width="17.5" height="17.5" fill="#000"/>
<rect x="1729.0" y="424.5" width="17.5" height="17.5" fill="#000"/>
<rect x="1861.8" y="330.6" width="17.5" height="17.5" fill="#000"/>
<rect x="1950.3" y="245.4" width="17.5" height="17.5" fill="#000"/>
<circle cx="1548.4" cy="128.3" r="9.5" fill="#ff0a0a"/>
<text x="1586.0" y="138.6" font-size="33" font-weight="bold" font-family="'Liberation Sans', Arial, Helvetica, sans-serif" fill="#000" textLength="243.5" lengthAdjust="spacingAndGlyphs">Uncoated NMC</text>
<rect x="1539.0" y="160.5" width="18" height="18" fill="#000"/>
<text x="1586.0" y="187.5" font-size="34" font-weight="bold" font-family="'Liberation Sans', Arial, Helvetica, sans-serif" fill="#000">Al<tspan font-size="22" dy="8">2</tspan><tspan dy="-8">O</tspan><tspan font-size="22" dy="8">3</tspan><tspan dy="-8"> coated NMC</tspan></text>
<polygon points="1536.0,215.0 1562.0,215.0 1549.0,236.0" fill="#0a0aff"/>
<text x="1586.0" y="237.7" font-size="34" font-weight="bold" font-family="'Liberation Sans', Arial, Helvetica, sans-serif" fill="#000">ZrO<tspan font-size="22" dy="8">2</tspan><tspan dy="-8"> coated NMC</tspan></text>
<polygon points="1536.0,285.0 1562.0,285.0 1549.0,264.0" fill="#10962a"/>
<text x="1586.0" y="287.5" font-size="34" font-weight="bold" font-family="'Liberation Sans', Arial, Helvetica, sans-serif" fill="#000">MgO coated NMC</text>
<text x="1971.0" y="188.7" font-size="34" font-weight="bold" font-family="'Liberation Sans', Arial, Helvetica, sans-serif" fill="#ff0a0a" textLength="73.0" lengthAdjust="spacingAndGlyphs">35 Ω</text>
<text x="1971.0" y="291.0" font-size="34" font-weight="bold" font-family="'Liberation Sans', Arial, Helvetica, sans-serif" fill="#000" textLength="73.0" lengthAdjust="spacingAndGlyphs">30 Ω</text>
<text x="1972.0" y="395.2" font-size="34" font-weight="bold" font-family="'Liberation Sans', Arial, Helvetica, sans-serif" fill="#0a0aff" textLength="72.0" lengthAdjust="spacingAndGlyphs">17 Ω</text>
<text x="1968.0" y="457.7" font-size="34" font-weight="bold" font-family="'Liberation Sans', Arial, Helvetica, sans-serif" fill="#0a8a1a" textLength="72.0" lengthAdjust="spacingAndGlyphs">11 Ω</text>
<rect x="108.7" y="832.3" width="507.3" height="413.0" fill="none" stroke="#7c7c7c" stroke-width="1.9"/>
<line x1="122.1" y1="1245.3" x2="122.1" y2="1236.3" stroke="#555" stroke-width="2" />
<line x1="122.1" y1="832.3" x2="122.1" y2="841.3" stroke="#555" stroke-width="2" />
<line x1="183.8" y1="1245.3" x2="183.8" y2="1240.3" stroke="#555" stroke-width="2" />
<line x1="183.8" y1="832.3" x2="183.8" y2="837.3" stroke="#555" stroke-width="2" />
<line x1="245.6" y1="1245.3" x2="245.6" y2="1236.3" stroke="#555" stroke-width="2" />
<line x1="245.6" y1="832.3" x2="245.6" y2="841.3" stroke="#555" stroke-width="2" />
<line x1="307.4" y1="1245.3" x2="307.4" y2="1240.3" stroke="#555" stroke-width="2" />
<line x1="307.4" y1="832.3" x2="307.4" y2="837.3" stroke="#555" stroke-width="2" />
<line x1="369.1" y1="1245.3" x2="369.1" y2="1236.3" stroke="#555" stroke-width="2" />
<line x1="369.1" y1="832.3" x2="369.1" y2="841.3" stroke="#555" stroke-width="2" />
<line x1="430.9" y1="1245.3" x2="430.9" y2="1240.3" stroke="#555" stroke-width="2" />
<line x1="430.9" y1="832.3" x2="430.9" y2="837.3" stroke="#555" stroke-width="2" />
<line x1="492.6" y1="1245.3" x2="492.6" y2="1236.3" stroke="#555" stroke-width="2" />
<line x1="492.6" y1="832.3" x2="492.6" y2="841.3" stroke="#555" stroke-width="2" />
<line x1="554.4" y1="1245.3" x2="554.4" y2="1240.3" stroke="#555" stroke-width="2" />
<line x1="554.4" y1="832.3" x2="554.4" y2="837.3" stroke="#555" stroke-width="2" />
<line x1="616.1" y1="1245.3" x2="616.1" y2="1236.3" stroke="#555" stroke-width="2" />
<line x1="616.1" y1="832.3" x2="616.1" y2="841.3" stroke="#555" stroke-width="2" />
<line x1="108.7" y1="833.8" x2="117.7" y2="833.8" stroke="#555" stroke-width="2" />
<line x1="616.0" y1="833.8" x2="607.0" y2="833.8" stroke="#555" stroke-width="2" />
<line x1="108.7" y1="865.4" x2="113.7" y2="865.4" stroke="#555" stroke-width="2" />
<line x1="616.0" y1="865.4" x2="611.0" y2="865.4" stroke="#555" stroke-width="2" />
<line x1="108.7" y1="897.0" x2="117.7" y2="897.0" stroke="#555" stroke-width="2" />
<line x1="616.0" y1="897.0" x2="607.0" y2="897.0" stroke="#555" stroke-width="2" />
<line x1="108.7" y1="928.7" x2="113.7" y2="928.7" stroke="#555" stroke-width="2" />
<line x1="616.0" y1="928.7" x2="611.0" y2="928.7" stroke="#555" stroke-width="2" />
<line x1="108.7" y1="960.3" x2="117.7" y2="960.3" stroke="#555" stroke-width="2" />
<line x1="616.0" y1="960.3" x2="607.0" y2="960.3" stroke="#555" stroke-width="2" />
<line x1="108.7" y1="991.9" x2="113.7" y2="991.9" stroke="#555" stroke-width="2" />
<line x1="616.0" y1="991.9" x2="611.0" y2="991.9" stroke="#555" stroke-width="2" />
<line x1="108.7" y1="1023.5" x2="117.7" y2="1023.5" stroke="#555" stroke-width="2" />
<line x1="616.0" y1="1023.5" x2="607.0" y2="1023.5" stroke="#555" stroke-width="2" />
<line x1="108.7" y1="1055.2" x2="113.7" y2="1055.2" stroke="#555" stroke-width="2" />
<line x1="616.0" y1="1055.2" x2="611.0" y2="1055.2" stroke="#555" stroke-width="2" />
<line x1="108.7" y1="1086.8" x2="117.7" y2="1086.8" stroke="#555" stroke-width="2" />
<line x1="616.0" y1="1086.8" x2="607.0" y2="1086.8" stroke="#555" stroke-width="2" />
<line x1="108.7" y1="1118.4" x2="113.7" y2="1118.4" stroke="#555" stroke-width="2" />
<line x1="616.0" y1="1118.4" x2="611.0" y2="1118.4" stroke="#555" stroke-width="2" />
<line x1="108.7" y1="1150.0" x2="117.7" y2="1150.0" stroke="#555" stroke-width="2" />
<line x1="616.0" y1="1150.0" x2="607.0" y2="1150.0" stroke="#555" stroke-width="2" />
<line x1="108.7" y1="1181.7" x2="113.7" y2="1181.7" stroke="#555" stroke-width="2" />
<line x1="616.0" y1="1181.7" x2="611.0" y2="1181.7" stroke="#555" stroke-width="2" />
<line x1="108.7" y1="1213.3" x2="117.7" y2="1213.3" stroke="#555" stroke-width="2" />
<line x1="616.0" y1="1213.3" x2="607.0" y2="1213.3" stroke="#555" stroke-width="2" />
<path d="M122.1,1086.8l149.4,-0.3 19.8,-1.4 12.3,-3.0 7.5,-2.8 7.4,-4.3 4.9,-4.1 4.9,-5.8 8.7,-13.2 16.0,-34.2 2.5,-4.4 4.3,27.2 1.9,8.4 2.5,8.3 2.4,5.8 3.1,5.0 3.1,3.2 3.7,2.4 7.4,2.3 12.4,1.4 96.3,3.6 0.0,2.1 -8.6,4.0 -7.5,1.8 -9.8,1.5 -121.1,5.8 -22.2,2.0 -7.4,1.5 -6.2,1.8 -12.3,9.0 -2.5,1.3 -2.5,0.4 -3.7,-0.8 -7.4,-3.6 -8.6,-6.8 -2.5,-1.5 -14.8,-5.0 -13.6,-3.0 -7.4,-0.7 -21.0,-0.7 -91.4,-1.3 0.0,-1.9" fill="none" stroke="#1c1c48" stroke-width="2.6" stroke-linejoin="round" stroke-linecap="round" />
<path d="M122.1,1086.8l113.6,0.0 27.2,-0.4 12.3,-0.9 7.4,-1.0 9.9,-2.8 6.2,-2.4 7.4,-4.3 5.0,-4.1 6.1,-7.5 6.8,-10.4 13.0,-27.3 5.5,-12.8 3.8,-10.0 8.0,-25.6 1.8,-4.6 0.7,1.8 6.1,39.2 2.5,11.7 3.1,11.6 3.1,8.7 3.7,7.7 4.3,6.1 4.3,4.0 5.0,2.9 6.1,2.1 7.4,1.5 9.9,1.0 80.3,4.4 0.0,-3.0 -7.4,6.5 -6.2,4.1 -9.9,4.8 -8.6,2.9 -16.1,3.7 -30.8,5.3 -42.0,6.3 -30.9,4.0 -18.5,3.4 -9.9,2.6 -7.4,2.7 -2.5,1.3 -7.4,5.7 -6.2,3.3 -3.7,1.0 -4.9,-0.8 -7.4,-3.7 -11.1,-8.9 -11.2,-6.1 -9.8,-4.5 -9.9,-3.4 -17.3,-3.2 -22.2,-2.7 -38.3,-3.1 -30.9,-1.6 0.0,-5.2" fill="none" stroke="#1010c0" stroke-width="2.6" stroke-linejoin="round" stroke-linecap="round" />
<path d="M122.1,1087.4l145.7,-1.0 13.6,-1.1 6.2,-1.0 9.9,-2.9 7.4,-3.3 7.4,-4.9 4.3,-4.3 8.0,-10.8 5.0,-8.6 12.9,-27.9 5.6,-13.5 4.9,-14.7 11.2,-36.7 1.2,1.7 8.0,42.6 3.1,13.4 3.7,13.1 3.7,10.2 3.7,7.8 4.3,6.6 5.0,5.3 6.2,4.2 7.4,2.9 8.6,1.8 13.6,1.6 59.3,3.8 0.6,-6.2 -9.3,10.2 -8.6,7.0 -9.9,6.1 -11.1,4.6 -16.1,5.0 -29.6,7.4 -35.8,7.5 -34.6,6.3 -21.0,5.0 -8.6,2.7 -7.4,3.0 -11.2,7.8 -6.1,2.8 -3.7,0.8 -5.0,-0.9 -7.4,-3.6 -3.7,-2.6 -7.4,-6.7 -11.1,-7.5 -11.1,-6.5 -9.9,-4.4 -18.5,-4.9 -22.3,-4.1 -33.3,-4.2 -27.2,-2.2 -0.6,-6.7" fill="none" stroke="#10105a" stroke-width="2.6" stroke-linejoin="round" stroke-linecap="round" />
<path d="M122.1,1088.1l119.8,-1.2 23.5,-0.6 11.1,-1.1 8.6,-1.8 9.9,-3.5 7.4,-4.0 3.7,-2.6 4.3,-4.3 9.3,-12.8 4.3,-8.0 13.0,-27.9 4.9,-12.2 3.7,-10.8 8.7,-28.8 8.0,-29.3 2.5,-6.0 1.2,1.8 1.2,4.2 11.8,50.7 4.3,16.0 3.7,11.7 4.3,11.1 4.4,8.8 4.3,6.8 4.9,5.8 4.3,3.7 3.7,2.4 8.7,3.8 11.1,2.6 16.1,2.0 43.2,3.5 0.6,-9.5 -9.9,13.4 -11.1,10.9 -9.9,7.1 -14.8,7.5 -23.5,8.9 -22.2,7.0 -28.4,7.5 -37.0,8.4 -24.7,6.9 -14.9,5.9 -11.1,7.6 -6.2,2.7 -4.9,1.0 -4.9,-0.9 -8.7,-4.4 -11.1,-9.9 -16.0,-12.5 -8.7,-5.8 -7.4,-3.9 -19.8,-6.9 -21.0,-5.2 -29.6,-5.0 -24.7,-2.7 0.0,-8.1" fill="none" stroke="#5050f8" stroke-width="2.4" stroke-linejoin="round" stroke-linecap="round" />
<path d="M122.1,1089.3l42.0,-1.2 84.0,-1.1 22.2,-0.7 11.1,-1.2 7.4,-1.7 9.9,-3.4 7.4,-4.0 3.7,-2.7 4.3,-4.3 4.4,-5.5 5.5,-8.2 4.3,-8.3 13.0,-28.1 4.3,-10.7 4.4,-12.8 8.0,-26.8 9.2,-33.9 1.9,-5.6 1.9,-3.6 1.2,0.4 0.6,0.9 3.1,7.9 15.4,53.8 8.7,25.3 4.3,9.9 4.3,8.3 4.3,6.6 5.0,6.0 8.0,6.7 4.9,2.8 5.0,2.0 12.3,3.3 18.6,2.6 25.9,2.5 0.0,-11.8 -10.5,16.4 -6.8,8.2 -6.2,6.5 -5.5,4.7 -7.4,5.2 -16.1,9.1 -22.2,9.8 -23.5,8.4 -22.2,6.7 -37.1,9.6 -28.4,8.7 -13.6,5.7 -11.1,7.7 -6.1,2.5 -5.0,1.3 -2.5,0.1 -3.7,-0.8 -9.8,-5.1 -29.1,-26.3 -7.4,-5.7 -6.1,-3.7 -18.6,-8.1 -21.0,-6.6 -27.1,-5.9 -23.5,-3.1 0.0,-8.7" fill="none" stroke="#a8a8f0" stroke-width="2.0" stroke-linejoin="round" stroke-linecap="round" />
<path d="M122.1,1091.2l49.4,-2.4 88.9,-1.7 16.1,-0.9 9.9,-1.2 11.1,-3.0 7.4,-3.1 7.4,-4.5 3.7,-3.3 3.7,-4.2 8.6,-12.6 18.0,-38.3 4.3,-11.2 4.3,-13.3 7.4,-25.1 8.7,-31.8 6.1,-19.3 7.4,-19.6 3.1,-5.7 1.9,-1.4 1.8,1.4 1.9,3.2 5.5,14.6 18.6,66.5 8.0,25.2 7.4,18.4 7.4,13.6 6.2,8.2 6.8,6.4 7.4,4.7 8.6,3.4 9.9,2.4 13.6,2.1 0.0,-11.3 -6.2,11.4 -4.9,8.0 -6.8,9.2 -6.8,8.0 -5.6,5.3 -8.6,6.8 -8.6,6.0 -9.9,5.9 -21.0,10.4 -26.0,10.1 -17.2,5.8 -37.1,10.6 -32.1,10.5 -11.1,4.9 -12.4,8.3 -6.1,2.3 -5.0,1.2 -3.7,0.1 -3.7,-1.0 -9.9,-5.3 -32.7,-32.2 -6.2,-5.0 -7.4,-4.4 -17.3,-8.5 -18.5,-6.7 -24.7,-6.2 -11.1,-2.0 -9.9,-1.3 0.0,-8.4" fill="none" stroke="#78f0a8" stroke-width="2.0" stroke-linejoin="round" stroke-linecap="round" />
<path d="M122.1,1093.1l23.5,-2.0 27.1,-1.5 92.7,-2.5 16.0,-1.1 8.7,-1.4 11.1,-3.4 7.4,-3.6 6.2,-4.1 6.8,-7.4 8.0,-11.8 17.9,-38.2 4.3,-11.3 4.3,-13.3 7.4,-25.0 9.3,-33.9 6.8,-20.9 4.9,-13.2 5.0,-11.3 3.7,-6.5 2.5,-2.2 1.2,0.1 1.2,0.8 2.5,3.2 3.1,5.9 3.1,7.4 6.1,18.0 14.9,49.3 7.4,22.6 8.0,20.5 8.0,15.7 5.6,8.4 6.2,7.1 6.1,5.3 7.4,4.5 7.5,3.0 8.6,2.4 0.0,-9.5 -6.2,12.4 -5.5,9.7 -7.4,10.8 -6.8,8.5 -8.1,8.0 -8.6,7.3 -8.7,6.4 -9.8,6.3 -18.6,10.0 -21.0,9.1 -19.7,7.3 -34.6,10.5 -34.6,11.5 -14.8,6.4 -12.3,8.3 -7.5,2.6 -4.9,1.1 -3.7,-0.1 -3.7,-1.0 -9.9,-5.5 -13.6,-13.5 -20.3,-22.3 -5.6,-4.7 -8.6,-5.7 -16.1,-8.7 -17.3,-7.1 -23.5,-6.6 -18.5,-3.2 -0.6,-7.9" fill="none" stroke="#40e088" stroke-width="2.6" stroke-linejoin="round" stroke-linecap="round" />
<path d="M122.1,1095.0l24.7,-2.7 29.6,-2.1 33.4,-1.4 56.8,-1.5 17.3,-1.3 8.6,-1.6 9.9,-3.1 7.4,-3.6 6.2,-4.1 6.8,-7.4 8.0,-11.8 17.3,-36.8 4.3,-11.0 4.4,-13.0 8.0,-27.1 9.2,-33.9 8.7,-26.0 5.5,-14.0 5.6,-11.6 3.7,-5.6 1.9,-1.7 1.2,-0.4 2.5,0.8 3.7,4.1 3.7,6.1 4.3,9.3 7.4,19.7 15.4,46.7 7.5,20.9 7.4,18.2 7.4,14.9 4.9,8.0 5.0,6.7 5.5,6.1 5.6,4.8 4.9,3.3 6.2,3.1 0.6,-7.6 -6.2,13.5 -5.5,10.7 -7.4,11.9 -7.5,10.2 -8.0,8.8 -9.2,8.8 -9.9,8.2 -9.9,6.9 -19.8,11.3 -23.4,10.8 -16.1,6.1 -32.1,10.4 -37.0,12.8 -14.9,6.4 -12.3,8.3 -7.4,2.6 -5.0,1.2 -4.9,0.1 -3.7,-1.0 -7.4,-3.8 -3.7,-2.6 -13.0,-13.6 -21.0,-25.4 -5.5,-5.0 -11.2,-8.0 -14.8,-8.9 -13.6,-6.1 -22.2,-7.1 -8.6,-2.0 -8.7,-1.4 -0.6,-7.5" fill="none" stroke="#10ee20" stroke-width="3.4" stroke-linejoin="round" stroke-linecap="round" />
<path d="M122.1,1096.9l25.9,-3.5 29.7,-2.5 34.6,-1.7 56.8,-1.8 17.3,-1.3 7.4,-1.4 9.8,-3.0 7.5,-3.5 6.1,-4.0 6.8,-7.0 8.7,-12.5 16.6,-35.4 4.4,-10.6 4.3,-12.7 8.6,-29.0 9.9,-36.0 9.3,-27.4 6.1,-14.8 5.6,-11.1 4.3,-5.8 1.3,-1.0 2.4,-0.9 3.7,1.3 4.4,3.8 4.9,6.6 4.9,8.4 9.9,21.3 22.9,57.9 11.1,25.1 6.2,11.9 6.1,10.3 6.2,8.6 6.8,7.8 -0.6,2.6 -3.1,7.5 -7.4,15.9 -7.4,13.1 -7.4,11.1 -8.7,10.6 -10.5,11.1 -9.9,8.9 -9.8,7.5 -9.9,6.5 -11.1,6.4 -23.5,11.2 -16.1,6.3 -69.1,24.1 -14.8,6.5 -12.4,8.3 -6.2,2.2 -6.1,1.6 -5.0,0.3 -3.7,-0.8 -8.6,-4.3 -3.7,-2.6 -13.0,-14.1 -16.0,-21.7 -5.6,-6.8 -8.7,-7.9 -11.1,-8.5 -12.3,-7.8 -12.4,-6.0 -19.7,-7.0 -8.7,-2.2 -7.4,-1.2 -0.6,-6.9" fill="none" stroke="#0a700a" stroke-width="2.6" stroke-linejoin="round" stroke-linecap="round" />
<path d="M122.1,1099.5l27.2,-4.5 30.8,-3.2 35.9,-2.1 56.8,-2.0 17.3,-1.5 7.4,-1.4 9.9,-3.2 7.4,-3.6 6.1,-4.2 6.8,-7.4 8.1,-11.8 16.6,-35.4 4.4,-10.7 4.3,-12.8 8.0,-26.9 10.5,-38.1 9.9,-28.9 6.2,-14.5 6.1,-11.9 5.0,-6.7 1.8,-1.6 2.5,-1.3 2.5,0.0 2.4,1.0 6.2,4.8 6.2,7.4 6.2,9.5 11.7,22.4 29.6,64.1 8.7,16.3 8.0,13.2 0.0,25.5 -6.8,17.0 -6.2,13.3 -9.8,17.6 -9.3,13.3 -13.6,16.1 -6.8,6.9 -6.8,6.1 -11.1,8.4 -11.1,7.3 -12.4,7.0 -13.5,6.7 -19.8,8.1 -71.6,25.9 -13.6,6.2 -12.4,8.3 -8.6,2.7 -6.2,1.0 -4.9,-0.3 -5.0,-1.8 -7.4,-4.3 -5.5,-5.2 -9.3,-10.8 -16.1,-23.7 -5.5,-7.4 -5.6,-5.7 -9.2,-8.3 -13.6,-10.4 -12.4,-7.0 -19.7,-7.9 -8.7,-2.5 -7.4,-1.4 -0.6,-5.7" fill="none" stroke="#0a2a0a" stroke-width="2.8" stroke-linejoin="round" stroke-linecap="round" stroke-dasharray="6 7"/>
<rect x="817.3" y="832.3" width="507.5" height="413.0" fill="none" stroke="#7c7c7c" stroke-width="1.9"/>
<line x1="829.4" y1="1245.3" x2="829.4" y2="1236.3" stroke="#555" stroke-width="2" />
<line x1="829.4" y1="832.3" x2="829.4" y2="841.3" stroke="#555" stroke-width="2" />
<line x1="891.3" y1="1245.3" x2="891.3" y2="1240.3" stroke="#555" stroke-width="2" />
<line x1="891.3" y1="832.3" x2="891.3" y2="837.3" stroke="#555" stroke-width="2" />
<line x1="953.2" y1="1245.3" x2="953.2" y2="1236.3" stroke="#555" stroke-width="2" />
<line x1="953.2" y1="832.3" x2="953.2" y2="841.3" stroke="#555" stroke-width="2" />
<line x1="1015.2" y1="1245.3" x2="1015.2" y2="1240.3" stroke="#555" stroke-width="2" />
<line x1="1015.2" y1="832.3" x2="1015.2" y2="837.3" stroke="#555" stroke-width="2" />
<line x1="1077.1" y1="1245.3" x2="1077.1" y2="1236.3" stroke="#555" stroke-width="2" />
<line x1="1077.1" y1="832.3" x2="1077.1" y2="841.3" stroke="#555" stroke-width="2" />
<line x1="1139.0" y1="1245.3" x2="1139.0" y2="1240.3" stroke="#555" stroke-width="2" />
<line x1="1139.0" y1="832.3" x2="1139.0" y2="837.3" stroke="#555" stroke-width="2" />
<line x1="1200.9" y1="1245.3" x2="1200.9" y2="1236.3" stroke="#555" stroke-width="2" />
<line x1="1200.9" y1="832.3" x2="1200.9" y2="841.3" stroke="#555" stroke-width="2" />
<line x1="1262.9" y1="1245.3" x2="1262.9" y2="1240.3" stroke="#555" stroke-width="2" />
<line x1="1262.9" y1="832.3" x2="1262.9" y2="837.3" stroke="#555" stroke-width="2" />
<line x1="1324.8" y1="1245.3" x2="1324.8" y2="1236.3" stroke="#555" stroke-width="2" />
<line x1="1324.8" y1="832.3" x2="1324.8" y2="841.3" stroke="#555" stroke-width="2" />
<line x1="817.3" y1="833.8" x2="826.3" y2="833.8" stroke="#555" stroke-width="2" />
<line x1="1324.8" y1="833.8" x2="1315.8" y2="833.8" stroke="#555" stroke-width="2" />
<line x1="817.3" y1="865.4" x2="822.3" y2="865.4" stroke="#555" stroke-width="2" />
<line x1="1324.8" y1="865.4" x2="1319.8" y2="865.4" stroke="#555" stroke-width="2" />
<line x1="817.3" y1="897.0" x2="826.3" y2="897.0" stroke="#555" stroke-width="2" />
<line x1="1324.8" y1="897.0" x2="1315.8" y2="897.0" stroke="#555" stroke-width="2" />
<line x1="817.3" y1="928.7" x2="822.3" y2="928.7" stroke="#555" stroke-width="2" />
<line x1="1324.8" y1="928.7" x2="1319.8" y2="928.7" stroke="#555" stroke-width="2" />
<line x1="817.3" y1="960.3" x2="826.3" y2="960.3" stroke="#555" stroke-width="2" />
<line x1="1324.8" y1="960.3" x2="1315.8" y2="960.3" stroke="#555" stroke-width="2" />
<line x1="817.3" y1="991.9" x2="822.3" y2="991.9" stroke="#555" stroke-width="2" />
<line x1="1324.8" y1="991.9" x2="1319.8" y2="991.9" stroke="#555" stroke-width="2" />
<line x1="817.3" y1="1023.5" x2="826.3" y2="1023.5" stroke="#555" stroke-width="2" />
<line x1="1324.8" y1="1023.5" x2="1315.8" y2="1023.5" stroke="#555" stroke-width="2" />
<line x1="817.3" y1="1055.2" x2="822.3" y2="1055.2" stroke="#555" stroke-width="2" />
<line x1="1324.8" y1="1055.2" x2="1319.8" y2="1055.2" stroke="#555" stroke-width="2" />
<line x1="817.3" y1="1086.8" x2="826.3" y2="1086.8" stroke="#555" stroke-width="2" />
<line x1="1324.8" y1="1086.8" x2="1315.8" y2="1086.8" stroke="#555" stroke-width="2" />
<line x1="817.3" y1="1118.4" x2="822.3" y2="1118.4" stroke="#555" stroke-width="2" />
<line x1="1324.8" y1="1118.4" x2="1319.8" y2="1118.4" stroke="#555" stroke-width="2" />
<line x1="817.3" y1="1150.0" x2="826.3" y2="1150.0" stroke="#555" stroke-width="2" />
<line x1="1324.8" y1="1150.0" x2="1315.8" y2="1150.0" stroke="#555" stroke-width="2" />
<line x1="817.3" y1="1181.7" x2="822.3" y2="1181.7" stroke="#555" stroke-width="2" />
<line x1="1324.8" y1="1181.7" x2="1319.8" y2="1181.7" stroke="#555" stroke-width="2" />
<line x1="817.3" y1="1213.3" x2="826.3" y2="1213.3" stroke="#555" stroke-width="2" />
<line x1="1324.8" y1="1213.3" x2="1315.8" y2="1213.3" stroke="#555" stroke-width="2" />
<path d="M829.4,1088.7l133.8,-1.2 19.8,-0.6 7.4,-1.0 22.3,-6.7 6.2,-2.8 4.9,-3.2 1.9,-1.9 2.5,-4.1 9.3,-19.8 3.1,-3.1 2.4,-0.5 3.8,1.2 4.3,3.6 3.7,4.7 9.3,13.6 4.3,5.0 4.4,3.4 6.2,2.4 4.9,0.7 7.4,0.3 109.0,0.6 0.6,3.7 -11.1,4.1 -17.3,2.7 -18.6,1.4 -75.6,3.7 -40.8,3.3 -16.1,2.9 -12.4,3.7 -7.4,1.6 -5.0,-0.8 -18.6,-7.4 -12.4,-2.4 -13.6,-1.7 -32.2,-2.1 -90.4,-2.7 0.0,-0.6" fill="none" stroke="#1c1c48" stroke-width="2.6" stroke-linejoin="round" stroke-linecap="round" />
<path d="M829.4,1090.0l52.0,-1.5 86.7,-1.0 16.1,-0.6 7.4,-1.3 22.3,-6.3 6.2,-2.3 5.0,-2.6 3.7,-3.5 9.9,-12.4 12.4,-11.6 12.4,-14.3 2.5,-2.3 1.8,1.6 8.7,16.7 6.8,9.7 3.7,3.6 3.7,2.7 3.7,2.0 5.0,1.7 8.7,1.7 12.3,1.0 80.5,2.2 0.0,-3.4 -8.0,8.0 -6.2,4.3 -9.9,4.7 -11.1,3.1 -16.1,3.1 -27.3,3.8 -85.5,9.9 -17.3,3.5 -11.1,2.8 -8.7,2.8 -8.7,1.7 -3.7,-0.2 -3.7,-0.9 -19.8,-7.6 -22.3,-4.9 -13.6,-2.0 -21.1,-2.0 -76.8,-4.7 -0.6,-5.2" fill="none" stroke="#1010c0" stroke-width="2.6" stroke-linejoin="round" stroke-linecap="round" />
<path d="M829.4,1092.5l24.8,-1.7 28.5,-1.2 101.5,-2.5 8.7,-1.6 19.8,-5.7 9.9,-4.2 4.3,-3.3 11.2,-15.5 16.1,-17.0 6.2,-7.8 13.6,-19.2 3.1,-3.5 2.5,-1.8 1.2,0.7 1.9,2.9 11.1,24.0 7.5,12.6 3.7,4.7 4.3,4.3 3.7,2.9 5.0,2.7 9.9,3.2 12.4,1.6 60.6,2.4 0.0,-8.2 -8.6,11.8 -3.7,3.7 -5.0,3.9 -9.9,5.9 -13.6,4.8 -16.1,4.0 -27.3,5.3 -82.9,12.1 -23.6,5.2 -17.3,5.2 -8.7,1.5 -6.2,-0.5 -26.0,-9.2 -14.9,-4.0 -13.6,-2.8 -28.5,-3.5 -65.6,-5.8 0.0,-6.4" fill="none" stroke="#10105a" stroke-width="2.6" stroke-linejoin="round" stroke-linecap="round" />
<path d="M829.4,1095.0l26.0,-2.6 29.7,-1.9 99.1,-3.2 9.9,-1.9 19.8,-6.2 8.7,-4.2 3.7,-3.3 3.1,-4.8 6.8,-12.9 3.1,-5.0 11.8,-14.4 20.4,-29.1 6.8,-7.9 5.0,-4.0 1.2,0.2 1.3,1.0 2.4,3.6 14.3,28.3 8.0,13.1 4.4,5.4 4.3,4.4 5.0,3.8 4.9,2.8 8.7,3.2 12.4,2.3 16.1,1.3 34.6,1.5 0.0,-11.8 -4.9,9.2 -4.3,6.8 -3.8,4.6 -5.5,5.5 -5.0,4.1 -4.9,3.2 -8.7,4.2 -8.7,3.4 -16.1,4.9 -22.3,5.4 -35.9,6.8 -47.0,7.5 -27.3,6.3 -18.6,5.4 -9.9,1.9 -4.9,0.1 -3.7,-0.8 -32.3,-11.3 -12.3,-3.6 -11.2,-2.6 -24.8,-3.9 -59.4,-7.1 0.0,-7.7" fill="none" stroke="#5050f8" stroke-width="2.4" stroke-linejoin="round" stroke-linecap="round" />
<path d="M829.4,1097.6l26.0,-3.5 31.0,-2.6 29.7,-1.6 68.1,-2.3 11.2,-2.4 19.8,-6.4 6.2,-3.2 4.3,-3.5 3.7,-6.0 9.3,-18.6 11.8,-15.6 17.9,-26.6 6.8,-8.4 7.5,-7.9 4.3,-3.8 3.7,-1.8 2.5,1.1 3.7,4.1 18.6,28.1 9.9,12.9 9.9,9.7 9.9,6.9 9.9,4.5 12.4,3.5 13.6,2.1 19.8,1.8 0.0,-12.6 -5.5,12.1 -4.4,7.8 -4.3,6.0 -5.6,6.4 -4.9,4.6 -6.2,4.4 -8.7,4.8 -9.9,4.4 -19.8,6.9 -21.1,5.6 -29.7,6.3 -34.7,5.8 -16.1,3.2 -29.7,7.1 -17.3,5.2 -9.9,1.8 -6.2,0.2 -5.0,-1.0 -9.9,-3.2 -11.1,-4.4 -17.4,-6.0 -18.6,-5.3 -22.2,-4.2 -53.3,-8.1 0.0,-8.3" fill="none" stroke="#a8a8f0" stroke-width="2.0" stroke-linejoin="round" stroke-linecap="round" />
<path d="M829.4,1100.1l27.2,-4.5 31.0,-3.2 31.0,-2.0 66.9,-2.8 7.4,-1.5 14.8,-4.4 11.2,-4.0 4.9,-2.6 3.8,-3.5 10.5,-15.7 10.5,-11.2 6.2,-7.4 19.8,-27.4 14.9,-18.2 13.0,-13.5 3.7,-2.8 2.5,-0.8 2.5,0.9 4.9,4.3 20.4,23.3 10.0,10.3 8.0,7.3 8.7,6.6 7.4,4.8 7.4,3.9 8.7,3.8 8.7,3.0 4.9,1.5 0.6,-5.4 -5.5,13.8 -4.4,9.0 -4.9,7.7 -6.2,7.8 -5.6,5.6 -7.4,5.5 -8.7,5.3 -9.9,5.0 -19.8,7.6 -23.5,6.7 -24.8,5.7 -34.7,6.3 -19.8,4.2 -31.0,7.5 -16.1,4.9 -8.6,1.6 -7.5,0.7 -7.4,-1.4 -9.9,-3.1 -34.7,-13.1 -16.1,-4.7 -17.3,-3.7 -47.1,-8.9 -0.6,-8.8" fill="none" stroke="#78f0a8" stroke-width="2.0" stroke-linejoin="round" stroke-linecap="round" />
<path d="M829.4,1103.9l13.6,-3.3 13.6,-2.6 32.2,-4.3 32.2,-2.5 64.5,-3.3 7.4,-1.6 17.3,-5.1 11.2,-4.2 3.7,-2.0 2.5,-2.2 11.1,-13.8 9.9,-9.2 6.8,-7.2 6.2,-7.6 14.9,-21.4 17.3,-22.4 15.5,-17.4 5.0,-4.3 3.7,-2.2 1.2,-0.3 2.5,0.8 3.7,2.6 27.9,26.0 16.1,13.1 14.8,9.8 16.1,8.3 0.6,6.1 -4.9,13.5 -5.6,12.7 -6.8,11.0 -6.2,7.8 -6.2,6.0 -9.9,7.4 -11.1,6.7 -9.9,4.7 -11.2,4.4 -24.8,7.8 -23.5,5.7 -37.1,7.2 -24.8,5.5 -28.5,7.1 -17.3,5.1 -13.7,1.9 -4.9,-0.3 -5.0,-1.2 -11.1,-3.6 -32.2,-12.7 -12.4,-4.3 -17.3,-4.5 -47.1,-10.4 0.0,-7.3" fill="none" stroke="#40e088" stroke-width="2.6" stroke-linejoin="round" stroke-linecap="round" />
<path d="M829.4,1107.7l13.6,-4.0 13.6,-3.2 14.9,-2.8 17.3,-2.5 33.5,-3.3 64.4,-3.9 26.0,-7.2 11.1,-4.3 5.0,-3.6 9.3,-9.4 12.4,-10.1 8.0,-8.0 5.0,-6.4 11.7,-17.6 13.7,-19.1 16.7,-21.8 6.2,-7.1 5.6,-5.4 4.9,-3.7 3.7,-1.7 2.5,0.6 3.7,2.4 26.0,21.7 14.9,11.4 13.6,9.1 13.6,7.7 0.6,12.2 -4.9,15.0 -4.3,11.2 -3.8,7.6 -6.1,10.1 -5.0,6.6 -5.6,5.9 -7.4,6.4 -8.7,6.4 -8.6,5.2 -8.7,4.4 -11.2,4.7 -11.1,4.0 -29.7,8.4 -43.4,9.0 -27.2,6.2 -29.7,7.5 -16.1,4.8 -10.0,1.7 -7.4,0.4 -6.2,-1.1 -12.4,-3.7 -37.1,-15.3 -11.2,-4.0 -55.7,-15.3 0.0,-6.1" fill="none" stroke="#10ee20" stroke-width="3.4" stroke-linejoin="round" stroke-linecap="round" />
<path d="M829.4,1111.5l13.6,-4.8 14.9,-4.1 14.8,-3.2 17.4,-2.9 33.4,-3.8 63.2,-4.4 27.2,-7.6 11.2,-4.1 24.8,-17.4 4.9,-4.0 5.0,-4.8 5.5,-7.4 26.7,-40.4 16.1,-22.6 4.9,-6.0 5.6,-5.6 7.4,-6.5 5.0,-3.5 2.5,0.1 2.4,1.5 37.2,32.6 13.6,10.4 13.6,9.2 0.6,10.3 -5.5,18.0 -4.4,11.8 -4.3,9.0 -5.6,9.6 -5.5,7.7 -5.6,6.2 -7.4,7.0 -7.5,5.9 -7.4,5.1 -8.7,4.9 -11.1,5.1 -12.4,4.8 -28.5,8.7 -78.0,17.5 -27.3,6.9 -16.1,4.8 -11.1,1.9 -7.4,0.3 -6.2,-1.1 -12.4,-3.7 -16.1,-6.4 -29.7,-13.1 -53.3,-17.3 0.0,-4.6" fill="none" stroke="#0a700a" stroke-width="2.6" stroke-linejoin="round" stroke-linecap="round" />
<path d="M829.4,1115.3l13.6,-5.5 14.9,-4.8 14.8,-3.7 17.4,-3.4 16.1,-2.4 18.6,-2.1 58.2,-4.3 4.9,-0.7 32.2,-9.2 6.2,-2.3 7.5,-3.5 18.5,-10.5 5.0,-3.7 3.7,-3.6 5.6,-7.7 26.0,-41.7 17.3,-26.2 4.4,-5.4 5.5,-5.9 11.2,-10.6 3.7,-2.5 2.5,0.5 2.4,1.5 36.0,28.2 12.3,8.8 12.4,8.0 0.6,14.6 -8.6,28.7 -3.7,9.3 -5.0,9.8 -5.6,9.2 -5.5,7.4 -7.5,8.0 -7.4,7.0 -7.4,5.9 -7.5,5.0 -9.9,5.2 -11.1,5.0 -11.2,4.2 -13.6,4.5 -19.8,5.4 -34.7,7.6 -44.6,10.6 -19.8,5.1 -14.8,4.6 -12.4,2.0 -7.5,0.5 -6.2,-0.9 -11.1,-3.1 -14.9,-5.6 -33.4,-15.7 -48.3,-18.5 0.0,-3.1" fill="none" stroke="#0a2a0a" stroke-width="2.8" stroke-linejoin="round" stroke-linecap="round" stroke-dasharray="6 7"/>
<rect x="499" y="868" width="200" height="338" fill="#fff"/>
<rect x="1210" y="868" width="190" height="338" fill="#fff"/>
<line x1="504.1" y1="888.6" x2="563.9" y2="888.6" stroke="#1c1c48" stroke-width="3.0" />
<text x="570.5" y="896.9" font-size="30" font-weight="bold" font-family="'Liberation Sans', Arial, Helvetica, sans-serif" fill="#000" textLength="121.5" lengthAdjust="spacingAndGlyphs">0.1 mV/s</text>
<line x1="1217.7" y1="888.6" x2="1277" y2="888.6" stroke="#1c1c48" stroke-width="3.0" />
<text x="1276.5" y="896.9" font-size="30" font-weight="bold" font-family="'Liberation Sans', Arial, Helvetica, sans-serif" fill="#000" textLength="122.0" lengthAdjust="spacingAndGlyphs">0.1 mV/s</text>
<line x1="504.1" y1="922.1" x2="563.9" y2="922.1" stroke="#1010c0" stroke-width="3.0" />
<text x="570.5" y="930.4" font-size="30" font-weight="bold" font-family="'Liberation Sans', Arial, Helvetica, sans-serif" fill="#000" textLength="121.5" lengthAdjust="spacingAndGlyphs">0.2 mV/s</text>
<line x1="1217.7" y1="922.1" x2="1277" y2="922.1" stroke="#1010c0" stroke-width="3.0" />
<text x="1276.5" y="930.4" font-size="30" font-weight="bold" font-family="'Liberation Sans', Arial, Helvetica, sans-serif" fill="#000" textLength="122.0" lengthAdjust="spacingAndGlyphs">0.2 mV/s</text>
<line x1="504.1" y1="955.5" x2="563.9" y2="955.5" stroke="#10105a" stroke-width="3.0" />
<text x="570.5" y="963.8" font-size="30" font-weight="bold" font-family="'Liberation Sans', Arial, Helvetica, sans-serif" fill="#000" textLength="121.5" lengthAdjust="spacingAndGlyphs">0.3 mV/s</text>
<line x1="1217.7" y1="955.5" x2="1277" y2="955.5" stroke="#10105a" stroke-width="3.0" />
<text x="1276.5" y="963.8" font-size="30" font-weight="bold" font-family="'Liberation Sans', Arial, Helvetica, sans-serif" fill="#000" textLength="122.0" lengthAdjust="spacingAndGlyphs">0.3 mV/s</text>
<line x1="504.1" y1="989.0" x2="563.9" y2="989.0" stroke="#5050f8" stroke-width="2.8" />
<text x="570.5" y="997.2" font-size="30" font-weight="bold" font-family="'Liberation Sans', Arial, Helvetica, sans-serif" fill="#000" textLength="121.5" lengthAdjust="spacingAndGlyphs">0.4 mV/s</text>
<line x1="1217.7" y1="989.0" x2="1277" y2="989.0" stroke="#5050f8" stroke-width="2.8" />
<text x="1276.5" y="997.2" font-size="30" font-weight="bold" font-family="'Liberation Sans', Arial, Helvetica, sans-serif" fill="#000" textLength="122.0" lengthAdjust="spacingAndGlyphs">0.4 mV/s</text>
<line x1="504.1" y1="1022.4" x2="563.9" y2="1022.4" stroke="#a8a8f0" stroke-width="2.4" />
<text x="570.5" y="1030.7" font-size="30" font-weight="bold" font-family="'Liberation Sans', Arial, Helvetica, sans-serif" fill="#000" textLength="121.5" lengthAdjust="spacingAndGlyphs">0.5 mV/s</text>
<line x1="1217.7" y1="1022.4" x2="1277" y2="1022.4" stroke="#a8a8f0" stroke-width="2.4" />
<text x="1276.5" y="1030.7" font-size="30" font-weight="bold" font-family="'Liberation Sans', Arial, Helvetica, sans-serif" fill="#000" textLength="122.0" lengthAdjust="spacingAndGlyphs">0.5 mV/s</text>
<line x1="504.1" y1="1055.8" x2="563.9" y2="1055.8" stroke="#78f0a8" stroke-width="2.4" />
<text x="570.5" y="1064.1" font-size="30" font-weight="bold" font-family="'Liberation Sans', Arial, Helvetica, sans-serif" fill="#000" textLength="121.5" lengthAdjust="spacingAndGlyphs">0.6 mV/s</text>
<line x1="1217.7" y1="1055.8" x2="1277" y2="1055.8" stroke="#78f0a8" stroke-width="2.4" />
<text x="1276.5" y="1064.1" font-size="30" font-weight="bold" font-family="'Liberation Sans', Arial, Helvetica, sans-serif" fill="#000" textLength="122.0" lengthAdjust="spacingAndGlyphs">0.6 mV/s</text>
<line x1="504.1" y1="1089.3" x2="563.9" y2="1089.3" stroke="#40e088" stroke-width="3.0" />
<text x="570.5" y="1097.6" font-size="30" font-weight="bold" font-family="'Liberation Sans', Arial, Helvetica, sans-serif" fill="#000" textLength="121.5" lengthAdjust="spacingAndGlyphs">0.7 mV/s</text>
<line x1="1217.7" y1="1089.3" x2="1277" y2="1089.3" stroke="#40e088" stroke-width="3.0" />
<text x="1276.5" y="1097.6" font-size="30" font-weight="bold" font-family="'Liberation Sans', Arial, Helvetica, sans-serif" fill="#000" textLength="122.0" lengthAdjust="spacingAndGlyphs">0.7 mV/s</text>
<line x1="504.1" y1="1122.8" x2="563.9" y2="1122.8" stroke="#10ee20" stroke-width="3.8" />
<text x="570.5" y="1131.0" font-size="30" font-weight="bold" font-family="'Liberation Sans', Arial, Helvetica, sans-serif" fill="#000" textLength="121.5" lengthAdjust="spacingAndGlyphs">0.8 mV/s</text>
<line x1="1217.7" y1="1122.8" x2="1277" y2="1122.8" stroke="#10ee20" stroke-width="3.8" />
<text x="1276.5" y="1131.0" font-size="30" font-weight="bold" font-family="'Liberation Sans', Arial, Helvetica, sans-serif" fill="#000" textLength="122.0" lengthAdjust="spacingAndGlyphs">0.8 mV/s</text>
<line x1="504.1" y1="1156.2" x2="563.9" y2="1156.2" stroke="#0a700a" stroke-width="3.0" />
<text x="570.5" y="1164.5" font-size="30" font-weight="bold" font-family="'Liberation Sans', Arial, Helvetica, sans-serif" fill="#000" textLength="121.5" lengthAdjust="spacingAndGlyphs">0.9 mV/s</text>
<line x1="1217.7" y1="1156.2" x2="1277" y2="1156.2" stroke="#0a700a" stroke-width="3.0" />
<text x="1276.5" y="1164.5" font-size="30" font-weight="bold" font-family="'Liberation Sans', Arial, Helvetica, sans-serif" fill="#000" textLength="122.0" lengthAdjust="spacingAndGlyphs">0.9 mV/s</text>
<line x1="504.1" y1="1189.7" x2="563.9" y2="1189.7" stroke="#0a2a0a" stroke-width="3.1999999999999997" stroke-dasharray="6 7.2"/>
<text x="570.5" y="1198.0" font-size="30" font-weight="bold" font-family="'Liberation Sans', Arial, Helvetica, sans-serif" fill="#000" textLength="121.5" lengthAdjust="spacingAndGlyphs">1.0 mV/s</text>
<line x1="1217.7" y1="1189.7" x2="1277" y2="1189.7" stroke="#0a2a0a" stroke-width="3.1999999999999997" stroke-dasharray="6 7.2"/>
<text x="1276.5" y="1198.0" font-size="30" font-weight="bold" font-family="'Liberation Sans', Arial, Helvetica, sans-serif" fill="#000" textLength="122.0" lengthAdjust="spacingAndGlyphs">1.0 mV/s</text>
<text x="0" y="0" transform="translate(122.1 1289.6) scale(1 1.05)" font-size="37" font-weight="bold" font-family="'Liberation Sans', Arial, Helvetica, sans-serif" fill="#000" text-anchor="middle">3.0</text>
<text x="0" y="0" transform="translate(245.6 1289.6) scale(1 1.05)" font-size="37" font-weight="bold" font-family="'Liberation Sans', Arial, Helvetica, sans-serif" fill="#000" text-anchor="middle">3.5</text>
<text x="0" y="0" transform="translate(369.1 1289.6) scale(1 1.05)" font-size="37" font-weight="bold" font-family="'Liberation Sans', Arial, Helvetica, sans-serif" fill="#000" text-anchor="middle">4.0</text>
<text x="0" y="0" transform="translate(492.6 1289.6) scale(1 1.05)" font-size="37" font-weight="bold" font-family="'Liberation Sans', Arial, Helvetica, sans-serif" fill="#000" text-anchor="middle">4.5</text>
<text x="0" y="0" transform="translate(616.1 1289.6) scale(1 1.05)" font-size="37" font-weight="bold" font-family="'Liberation Sans', Arial, Helvetica, sans-serif" fill="#000" text-anchor="middle">5.0</text>
<text x="0" y="0" transform="translate(92.5 848.0) scale(1 1.085)" font-size="37.5" font-weight="bold" font-family="'Liberation Sans', Arial, Helvetica, sans-serif" fill="#000" text-anchor="end">20</text>
<text x="0" y="0" transform="translate(92.5 911.2) scale(1 1.085)" font-size="37.5" font-weight="bold" font-family="'Liberation Sans', Arial, Helvetica, sans-serif" fill="#000" text-anchor="end">15</text>
<text x="0" y="0" transform="translate(92.5 974.5) scale(1 1.085)" font-size="37.5" font-weight="bold" font-family="'Liberation Sans', Arial, Helvetica, sans-serif" fill="#000" text-anchor="end">10</text>
<text x="0" y="0" transform="translate(92.5 1037.8) scale(1 1.085)" font-size="37.5" font-weight="bold" font-family="'Liberation Sans', Arial, Helvetica, sans-serif" fill="#000" text-anchor="end">5</text>
<text x="0" y="0" transform="translate(92.5 1101.0) scale(1 1.085)" font-size="37.5" font-weight="bold" font-family="'Liberation Sans', Arial, Helvetica, sans-serif" fill="#000" text-anchor="end">0</text>
<text x="0" y="0" transform="translate(92.5 1164.2) scale(1 1.085)" font-size="37.5" font-weight="bold" font-family="'Liberation Sans', Arial, Helvetica, sans-serif" fill="#000" text-anchor="end">−5</text>
<text x="0" y="0" transform="translate(92.5 1227.5) scale(1 1.085)" font-size="37.5" font-weight="bold" font-family="'Liberation Sans', Arial, Helvetica, sans-serif" fill="#000" text-anchor="end">−10</text>
<text x="0" y="0" transform="translate(829.4 1289.6) scale(1 1.05)" font-size="37" font-weight="bold" font-family="'Liberation Sans', Arial, Helvetica, sans-serif" fill="#000" text-anchor="middle">3.0</text>
<text x="0" y="0" transform="translate(953.2 1289.6) scale(1 1.05)" font-size="37" font-weight="bold" font-family="'Liberation Sans', Arial, Helvetica, sans-serif" fill="#000" text-anchor="middle">3.5</text>
<text x="0" y="0" transform="translate(1077.1 1289.6) scale(1 1.05)" font-size="37" font-weight="bold" font-family="'Liberation Sans', Arial, Helvetica, sans-serif" fill="#000" text-anchor="middle">4.0</text>
<text x="0" y="0" transform="translate(1200.9 1289.6) scale(1 1.05)" font-size="37" font-weight="bold" font-family="'Liberation Sans', Arial, Helvetica, sans-serif" fill="#000" text-anchor="middle">4.5</text>
<text x="0" y="0" transform="translate(1324.8 1289.6) scale(1 1.05)" font-size="37" font-weight="bold" font-family="'Liberation Sans', Arial, Helvetica, sans-serif" fill="#000" text-anchor="middle">5.0</text>
<text x="0" y="0" transform="translate(799.0 848.0) scale(1 1.085)" font-size="37.5" font-weight="bold" font-family="'Liberation Sans', Arial, Helvetica, sans-serif" fill="#000" text-anchor="end">20</text>
<text x="0" y="0" transform="translate(799.0 911.2) scale(1 1.085)" font-size="37.5" font-weight="bold" font-family="'Liberation Sans', Arial, Helvetica, sans-serif" fill="#000" text-anchor="end">15</text>
<text x="0" y="0" transform="translate(799.0 974.5) scale(1 1.085)" font-size="37.5" font-weight="bold" font-family="'Liberation Sans', Arial, Helvetica, sans-serif" fill="#000" text-anchor="end">10</text>
<text x="0" y="0" transform="translate(799.0 1037.8) scale(1 1.085)" font-size="37.5" font-weight="bold" font-family="'Liberation Sans', Arial, Helvetica, sans-serif" fill="#000" text-anchor="end">5</text>
<text x="0" y="0" transform="translate(799.0 1101.0) scale(1 1.085)" font-size="37.5" font-weight="bold" font-family="'Liberation Sans', Arial, Helvetica, sans-serif" fill="#000" text-anchor="end">0</text>
<text x="0" y="0" transform="translate(799.0 1164.2) scale(1 1.085)" font-size="37.5" font-weight="bold" font-family="'Liberation Sans', Arial, Helvetica, sans-serif" fill="#000" text-anchor="end">−5</text>
<text x="0" y="0" transform="translate(799.0 1227.5) scale(1 1.085)" font-size="37.5" font-weight="bold" font-family="'Liberation Sans', Arial, Helvetica, sans-serif" fill="#000" text-anchor="end">−10</text>
<text x="277.0" y="1337.8" font-size="37.4" font-weight="bold" font-family="'Liberation Sans', Arial, Helvetica, sans-serif" fill="#000" textLength="196.0" lengthAdjust="spacingAndGlyphs">Voltage (V)</text>
<text x="984.0" y="1337.8" font-size="37.4" font-weight="bold" font-family="'Liberation Sans', Arial, Helvetica, sans-serif" fill="#000" textLength="196.0" lengthAdjust="spacingAndGlyphs">Voltage (V)</text>
<text x="114.0" y="869.1" font-size="37.5" font-weight="bold" font-family="'Liberation Sans', Arial, Helvetica, sans-serif" fill="#000" textLength="314.0" lengthAdjust="spacingAndGlyphs">MgO coated NMC</text>
<text x="842.0" y="882.5" font-size="38" font-weight="bold" font-family="'Liberation Sans', Arial, Helvetica, sans-serif" fill="#000" textLength="271.0" lengthAdjust="spacingAndGlyphs">Uncoated NMC</text>
<text x="30.5" y="1165.0" font-size="38" font-weight="bold" font-family="'Liberation Sans', Arial, Helvetica, sans-serif" fill="#000" textLength="233.0" lengthAdjust="spacingAndGlyphs" transform="rotate(-90 30.5 1165.0)">Current (mA)</text>
<text x="737.5" y="1165.0" font-size="38" font-weight="bold" font-family="'Liberation Sans', Arial, Helvetica, sans-serif" fill="#000" textLength="233.0" lengthAdjust="spacingAndGlyphs" transform="rotate(-90 737.5 1165.0)">Current (mA)</text>
<rect x="1504.9" y="830.1" width="568.6" height="420.1" fill="none" stroke="#6a6a6a" stroke-width="2.4"/>
<line x1="1504.9" y1="1250.2" x2="1504.9" y2="1241.2" stroke="#444" stroke-width="2" />
<line x1="1533.4" y1="1250.2" x2="1533.4" y2="1245.2" stroke="#444" stroke-width="2" />
<line x1="1561.8" y1="1250.2" x2="1561.8" y2="1241.2" stroke="#444" stroke-width="2" />
<line x1="1590.3" y1="1250.2" x2="1590.3" y2="1245.2" stroke="#444" stroke-width="2" />
<line x1="1618.7" y1="1250.2" x2="1618.7" y2="1241.2" stroke="#444" stroke-width="2" />
<line x1="1647.2" y1="1250.2" x2="1647.2" y2="1245.2" stroke="#444" stroke-width="2" />
<line x1="1675.7" y1="1250.2" x2="1675.7" y2="1241.2" stroke="#444" stroke-width="2" />
<line x1="1704.1" y1="1250.2" x2="1704.1" y2="1245.2" stroke="#444" stroke-width="2" />
<line x1="1732.6" y1="1250.2" x2="1732.6" y2="1241.2" stroke="#444" stroke-width="2" />
<line x1="1761.0" y1="1250.2" x2="1761.0" y2="1245.2" stroke="#444" stroke-width="2" />
<line x1="1789.5" y1="1250.2" x2="1789.5" y2="1241.2" stroke="#444" stroke-width="2" />
<line x1="1818.0" y1="1250.2" x2="1818.0" y2="1245.2" stroke="#444" stroke-width="2" />
<line x1="1846.4" y1="1250.2" x2="1846.4" y2="1241.2" stroke="#444" stroke-width="2" />
<line x1="1874.9" y1="1250.2" x2="1874.9" y2="1245.2" stroke="#444" stroke-width="2" />
<line x1="1903.3" y1="1250.2" x2="1903.3" y2="1241.2" stroke="#444" stroke-width="2" />
<line x1="1931.8" y1="1250.2" x2="1931.8" y2="1245.2" stroke="#444" stroke-width="2" />
<line x1="1960.3" y1="1250.2" x2="1960.3" y2="1241.2" stroke="#444" stroke-width="2" />
<line x1="1988.7" y1="1250.2" x2="1988.7" y2="1245.2" stroke="#444" stroke-width="2" />
<line x1="2017.2" y1="1250.2" x2="2017.2" y2="1241.2" stroke="#444" stroke-width="2" />
<line x1="2045.6" y1="1250.2" x2="2045.6" y2="1245.2" stroke="#444" stroke-width="2" />
<line x1="2074.1" y1="1250.2" x2="2074.1" y2="1241.2" stroke="#444" stroke-width="2" />
<line x1="1504.9" y1="1250.1" x2="1513.9" y2="1250.1" stroke="#444" stroke-width="2" />
<line x1="1504.9" y1="1226.8" x2="1509.9" y2="1226.8" stroke="#444" stroke-width="2" />
<line x1="1504.9" y1="1203.4" x2="1513.9" y2="1203.4" stroke="#444" stroke-width="2" />
<line x1="1504.9" y1="1180.0" x2="1509.9" y2="1180.0" stroke="#444" stroke-width="2" />
<line x1="1504.9" y1="1156.7" x2="1513.9" y2="1156.7" stroke="#444" stroke-width="2" />
<line x1="1504.9" y1="1133.3" x2="1509.9" y2="1133.3" stroke="#444" stroke-width="2" />
<line x1="1504.9" y1="1110.0" x2="1513.9" y2="1110.0" stroke="#444" stroke-width="2" />
<line x1="1504.9" y1="1086.6" x2="1509.9" y2="1086.6" stroke="#444" stroke-width="2" />
<line x1="1504.9" y1="1063.3" x2="1513.9" y2="1063.3" stroke="#444" stroke-width="2" />
<line x1="1504.9" y1="1039.9" x2="1509.9" y2="1039.9" stroke="#444" stroke-width="2" />
<line x1="1504.9" y1="1016.6" x2="1513.9" y2="1016.6" stroke="#444" stroke-width="2" />
<line x1="1504.9" y1="993.2" x2="1509.9" y2="993.2" stroke="#444" stroke-width="2" />
<line x1="1504.9" y1="969.9" x2="1513.9" y2="969.9" stroke="#444" stroke-width="2" />
<line x1="1504.9" y1="946.5" x2="1509.9" y2="946.5" stroke="#444" stroke-width="2" />
<line x1="1504.9" y1="923.2" x2="1513.9" y2="923.2" stroke="#444" stroke-width="2" />
<line x1="1504.9" y1="899.8" x2="1509.9" y2="899.8" stroke="#444" stroke-width="2" />
<line x1="1504.9" y1="876.5" x2="1513.9" y2="876.5" stroke="#444" stroke-width="2" />
<line x1="1504.9" y1="853.1" x2="1509.9" y2="853.1" stroke="#444" stroke-width="2" />
<line x1="1504.9" y1="829.8" x2="1513.9" y2="829.8" stroke="#444" stroke-width="2" />
<path d="M1556.1,1219.3l28.5,-4.2 28.4,-19.6 28.2,14.2 28.8,9.6 29.0,-26.2 27.9,-11.6 28.7,20.5 29.3,-19.6 28.2,-31.3 28.5,-72.4 29.0,-18.2 28.2,11.7 29.6,-19.6 27.6,-9.4 28.2,-34.1 28.4,-62.5" fill="none" stroke="#8a8a8a" stroke-width="1.6" stroke-linejoin="round" stroke-linecap="round" />
<path d="M1565.0,1195.5l28.4,6.5 29.0,-11.2 28.5,1.4 28.2,11.7 28.4,-24.8 57.0,-13.5 29.0,-18.2 28.4,-43.5 28.2,-91.5 29.3,-5.6 27.4,15.9 28.1,-24.8 29.3,-42.0 28.2,1.4 28.8,-49.5" fill="none" stroke="#ff8080" stroke-width="1.6" stroke-linejoin="round" stroke-linecap="round" />
<circle cx="1556.1" cy="1219.3" r="7" fill="#000"/>
<circle cx="1584.6" cy="1215.1" r="7" fill="#000"/>
<circle cx="1613.0" cy="1195.5" r="7" fill="#000"/>
<circle cx="1641.2" cy="1209.7" r="7" fill="#000"/>
<circle cx="1670.0" cy="1219.3" r="7" fill="#000"/>
<circle cx="1699.0" cy="1193.1" r="7" fill="#000"/>
<circle cx="1726.9" cy="1181.5" r="7" fill="#000"/>
<circle cx="1755.6" cy="1202.0" r="7" fill="#000"/>
<circle cx="1784.9" cy="1182.4" r="7" fill="#000"/>
<circle cx="1813.1" cy="1151.1" r="7" fill="#000"/>
<circle cx="1841.6" cy="1078.7" r="7" fill="#000"/>
<circle cx="1870.6" cy="1060.5" r="7" fill="#000"/>
<circle cx="1898.8" cy="1072.2" r="7" fill="#000"/>
<circle cx="1928.4" cy="1052.6" r="7" fill="#000"/>
<circle cx="1956.0" cy="1043.2" r="7" fill="#000"/>
<circle cx="1984.2" cy="1009.1" r="7" fill="#000"/>
<circle cx="2012.6" cy="946.5" r="7" fill="#000"/>
<circle cx="1565.0" cy="1195.5" r="7" fill="#ff0000"/>
<circle cx="1593.4" cy="1202.0" r="7" fill="#ff0000"/>
<circle cx="1622.4" cy="1190.8" r="7" fill="#ff0000"/>
<circle cx="1650.9" cy="1192.2" r="7" fill="#ff0000"/>
<circle cx="1679.1" cy="1203.9" r="7" fill="#ff0000"/>
<circle cx="1707.5" cy="1179.1" r="7" fill="#ff0000"/>
<circle cx="1735.7" cy="1172.6" r="7" fill="#ff0000"/>
<circle cx="1764.5" cy="1165.6" r="7" fill="#ff0000"/>
<circle cx="1793.5" cy="1147.4" r="7" fill="#ff0000"/>
<circle cx="1821.9" cy="1103.9" r="7" fill="#ff0000"/>
<circle cx="1850.1" cy="1012.4" r="7" fill="#ff0000"/>
<circle cx="1879.4" cy="1006.8" r="7" fill="#ff0000"/>
<circle cx="1906.8" cy="1022.7" r="7" fill="#ff0000"/>
<circle cx="1934.9" cy="997.9" r="7" fill="#ff0000"/>
<circle cx="1964.2" cy="955.9" r="7" fill="#ff0000"/>
<circle cx="1992.4" cy="957.3" r="7" fill="#ff0000"/>
<circle cx="2021.2" cy="907.8" r="7" fill="#ff0000"/>
<rect x="1888.1" y="833.9" width="175.8" height="62.8" fill="#fff" stroke="#a8acac" stroke-width="1.6"/>
<line x1="1892.4" y1="851.7" x2="1937.7" y2="851.7" stroke="#aaa" stroke-width="1.6" />
<circle cx="1914.7" cy="851.7" r="7.2" fill="#000"/>
<text x="1940.5" y="860.0" font-size="25.4" font-weight="bold" font-family="'Liberation Sans', Arial, Helvetica, sans-serif" fill="#000" textLength="92.5" lengthAdjust="spacingAndGlyphs">Pristine</text>
<line x1="1892.4" y1="884.5" x2="1937.7" y2="884.5" stroke="#ffaaaa" stroke-width="1.6" />
<circle cx="1914.7" cy="884.5" r="7.2" fill="#ff0000"/>
<text x="1940.5" y="891.4" font-size="25.4" font-weight="bold" font-family="'Liberation Sans', Arial, Helvetica, sans-serif" fill="#ff0000" textLength="115.5" lengthAdjust="spacingAndGlyphs">Ca-doped</text>
<text x="1504.9" y="1284.5" font-size="29" font-weight="bold" font-family="'Liberation Sans', Arial, Helvetica, sans-serif" fill="#000" text-anchor="middle">2.4</text>
<text x="1561.8" y="1284.5" font-size="29" font-weight="bold" font-family="'Liberation Sans', Arial, Helvetica, sans-serif" fill="#000" text-anchor="middle">2.6</text>
<text x="1618.7" y="1284.5" font-size="29" font-weight="bold" font-family="'Liberation Sans', Arial, Helvetica, sans-serif" fill="#000" text-anchor="middle">2.8</text>
<text x="1675.7" y="1284.5" font-size="29" font-weight="bold" font-family="'Liberation Sans', Arial, Helvetica, sans-serif" fill="#000" text-anchor="middle">3.0</text>
<text x="1732.6" y="1284.5" font-size="29" font-weight="bold" font-family="'Liberation Sans', Arial, Helvetica, sans-serif" fill="#000" text-anchor="middle">3.2</text>
<text x="1789.5" y="1284.5" font-size="29" font-weight="bold" font-family="'Liberation Sans', Arial, Helvetica, sans-serif" fill="#000" text-anchor="middle">3.4</text>
<text x="1846.4" y="1284.5" font-size="29" font-weight="bold" font-family="'Liberation Sans', Arial, Helvetica, sans-serif" fill="#000" text-anchor="middle">3.6</text>
<text x="1903.3" y="1284.5" font-size="29" font-weight="bold" font-family="'Liberation Sans', Arial, Helvetica, sans-serif" fill="#000" text-anchor="middle">3.8</text>
<text x="1960.3" y="1284.5" font-size="29" font-weight="bold" font-family="'Liberation Sans', Arial, Helvetica, sans-serif" fill="#000" text-anchor="middle">4.0</text>
<text x="2017.2" y="1284.5" font-size="29" font-weight="bold" font-family="'Liberation Sans', Arial, Helvetica, sans-serif" fill="#000" text-anchor="middle">4.2</text>
<text x="2074.1" y="1284.5" font-size="29" font-weight="bold" font-family="'Liberation Sans', Arial, Helvetica, sans-serif" fill="#000" text-anchor="middle">4.4</text>
<text x="0" y="0" transform="translate(1485.5 1264.3) scale(1 1.07)" font-size="37.5" font-weight="bold" font-family="'Liberation Sans', Arial, Helvetica, sans-serif" fill="#000" text-anchor="end">0</text>
<text x="0" y="0" transform="translate(1485.5 1217.6) scale(1 1.07)" font-size="37.5" font-weight="bold" font-family="'Liberation Sans', Arial, Helvetica, sans-serif" fill="#000" text-anchor="end">1</text>
<text x="0" y="0" transform="translate(1485.5 1170.9) scale(1 1.07)" font-size="37.5" font-weight="bold" font-family="'Liberation Sans', Arial, Helvetica, sans-serif" fill="#000" text-anchor="end">2</text>
<text x="0" y="0" transform="translate(1485.5 1124.2) scale(1 1.07)" font-size="37.5" font-weight="bold" font-family="'Liberation Sans', Arial, Helvetica, sans-serif" fill="#000" text-anchor="end">3</text>
<text x="0" y="0" transform="translate(1485.5 1077.5) scale(1 1.07)" font-size="37.5" font-weight="bold" font-family="'Liberation Sans', Arial, Helvetica, sans-serif" fill="#000" text-anchor="end">4</text>
<text x="0" y="0" transform="translate(1485.5 1030.8) scale(1 1.07)" font-size="37.5" font-weight="bold" font-family="'Liberation Sans', Arial, Helvetica, sans-serif" fill="#000" text-anchor="end">5</text>
<text x="0" y="0" transform="translate(1485.5 984.1) scale(1 1.07)" font-size="37.5" font-weight="bold" font-family="'Liberation Sans', Arial, Helvetica, sans-serif" fill="#000" text-anchor="end">6</text>
<text x="0" y="0" transform="translate(1485.5 937.4) scale(1 1.07)" font-size="37.5" font-weight="bold" font-family="'Liberation Sans', Arial, Helvetica, sans-serif" fill="#000" text-anchor="end">7</text>
<text x="0" y="0" transform="translate(1485.5 890.7) scale(1 1.07)" font-size="37.5" font-weight="bold" font-family="'Liberation Sans', Arial, Helvetica, sans-serif" fill="#000" text-anchor="end">8</text>
<text x="0" y="0" transform="translate(1485.5 844.0) scale(1 1.07)" font-size="37.5" font-weight="bold" font-family="'Liberation Sans', Arial, Helvetica, sans-serif" fill="#000" text-anchor="end">9</text>
<text x="1700.0" y="1336.0" font-size="37.4" font-weight="bold" font-family="'Liberation Sans', Arial, Helvetica, sans-serif" fill="#000" textLength="194.0" lengthAdjust="spacingAndGlyphs">Voltage (V)</text>
<text x="1443.5" y="1197" font-size="37.5" font-weight="bold" font-family="'Liberation Sans', Arial, sans-serif" transform="rotate(-90 1443.5 1197)" textLength="296" lengthAdjust="spacingAndGlyphs">D<tspan font-size="24" dy="8">Li</tspan><tspan dy="-8"> (10</tspan><tspan font-size="24" dy="-13">−10</tspan><tspan dy="13"> cm</tspan><tspan font-size="24" dy="-13">2</tspan><tspan dy="13"> s</tspan><tspan font-size="24" dy="-13">−1</tspan><tspan dy="13">)</tspan></text>
</svg>
</body></html>
